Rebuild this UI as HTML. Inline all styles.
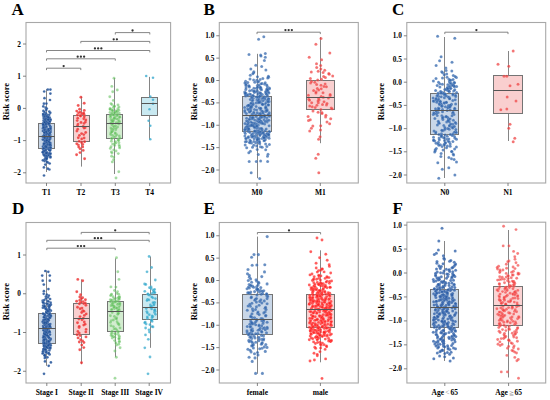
<!DOCTYPE html>
<html><head><meta charset="utf-8"><style>
html,body{margin:0;padding:0;background:#fff;width:550px;height:400px;overflow:hidden}
svg{display:block}

</style></head><body><div id="w">
<svg width="550" height="400" viewBox="0 0 550 400" font-family='"Liberation Serif", serif'>
<rect width="550" height="400" fill="#fff"/>
<text x="11.6" y="15.0" font-size="17" font-weight="bold">A</text>
<text x="6.3" y="101.65" font-size="8.5" font-weight="bold" text-anchor="middle" transform="rotate(-90 6.3 101.65)" dominant-baseline="central">Risk score</text>
<rect x="26" y="22.5" width="144.6" height="160.5" fill="none" stroke="#a8a8a8" stroke-width="1.1"/>
<line x1="23" y1="44.0" x2="26" y2="44.0" stroke="#666" stroke-width="0.8"/>
<text x="21" y="46.55" font-size="7.3" font-weight="bold" text-anchor="end">2</text>
<line x1="23" y1="76.2" x2="26" y2="76.2" stroke="#666" stroke-width="0.8"/>
<text x="21" y="78.75" font-size="7.3" font-weight="bold" text-anchor="end">1</text>
<line x1="23" y1="108.4" x2="26" y2="108.4" stroke="#666" stroke-width="0.8"/>
<text x="21" y="110.95" font-size="7.3" font-weight="bold" text-anchor="end">0</text>
<line x1="23" y1="140.60000000000002" x2="26" y2="140.60000000000002" stroke="#666" stroke-width="0.8"/>
<text x="21" y="143.15000000000003" font-size="7.3" font-weight="bold" text-anchor="end">−1</text>
<line x1="23" y1="172.8" x2="26" y2="172.8" stroke="#666" stroke-width="0.8"/>
<text x="21" y="175.35000000000002" font-size="7.3" font-weight="bold" text-anchor="end">−2</text>
<line x1="46.5" y1="183" x2="46.5" y2="186" stroke="#666" stroke-width="0.8"/>
<text x="46.5" y="194.6" font-size="7.5" font-weight="bold" text-anchor="middle">T1</text>
<line x1="81" y1="183" x2="81" y2="186" stroke="#666" stroke-width="0.8"/>
<text x="81" y="194.6" font-size="7.5" font-weight="bold" text-anchor="middle">T2</text>
<line x1="115.3" y1="183" x2="115.3" y2="186" stroke="#666" stroke-width="0.8"/>
<text x="115.3" y="194.6" font-size="7.5" font-weight="bold" text-anchor="middle">T3</text>
<line x1="149.7" y1="183" x2="149.7" y2="186" stroke="#666" stroke-width="0.8"/>
<text x="149.7" y="194.6" font-size="7.5" font-weight="bold" text-anchor="middle">T4</text>
<line x1="46.5" y1="89.1" x2="46.5" y2="172" stroke="#858585" stroke-width="1"/>
<rect x="38.5" y="123.5" width="16.0" height="25.0" fill="#c9d7e8" stroke="#747474" stroke-width="1"/>
<g fill="#1d4f96" fill-opacity="0.85" stroke="#fff" stroke-opacity="0.3" stroke-width="0.35">
<circle cx="50.2" cy="142.8" r="1.35"/>
<circle cx="50.6" cy="130.1" r="1.35"/>
<circle cx="49.4" cy="155.1" r="1.35"/>
<circle cx="47.2" cy="141.0" r="1.35"/>
<circle cx="50.4" cy="157.4" r="1.35"/>
<circle cx="47.1" cy="136.6" r="1.35"/>
<circle cx="47.2" cy="140.5" r="1.35"/>
<circle cx="48.9" cy="129.3" r="1.35"/>
<circle cx="46.8" cy="141.6" r="1.35"/>
<circle cx="43.7" cy="126.4" r="1.35"/>
<circle cx="48.0" cy="136.5" r="1.35"/>
<circle cx="45.9" cy="135.0" r="1.35"/>
<circle cx="50.3" cy="135.1" r="1.35"/>
<circle cx="47.6" cy="123.1" r="1.35"/>
<circle cx="45.6" cy="107.7" r="1.35"/>
<circle cx="42.9" cy="131.0" r="1.35"/>
<circle cx="47.3" cy="117.3" r="1.35"/>
<circle cx="47.8" cy="89.6" r="1.35"/>
<circle cx="47.8" cy="124.2" r="1.35"/>
<circle cx="46.4" cy="120.2" r="1.35"/>
<circle cx="44.6" cy="161.1" r="1.35"/>
<circle cx="45.0" cy="117.8" r="1.35"/>
<circle cx="45.5" cy="126.1" r="1.35"/>
<circle cx="50.6" cy="132.1" r="1.35"/>
<circle cx="46.2" cy="143.8" r="1.35"/>
<circle cx="46.5" cy="134.2" r="1.35"/>
<circle cx="46.1" cy="149.5" r="1.35"/>
<circle cx="42.9" cy="146.7" r="1.35"/>
<circle cx="49.0" cy="134.3" r="1.35"/>
<circle cx="43.6" cy="153.0" r="1.35"/>
<circle cx="47.9" cy="137.1" r="1.35"/>
<circle cx="44.0" cy="127.7" r="1.35"/>
<circle cx="46.7" cy="142.2" r="1.35"/>
<circle cx="46.7" cy="158.5" r="1.35"/>
<circle cx="44.0" cy="154.9" r="1.35"/>
<circle cx="48.9" cy="129.6" r="1.35"/>
<circle cx="47.5" cy="119.0" r="1.35"/>
<circle cx="48.2" cy="131.5" r="1.35"/>
<circle cx="48.3" cy="149.1" r="1.35"/>
<circle cx="48.0" cy="118.4" r="1.35"/>
<circle cx="43.8" cy="145.0" r="1.35"/>
<circle cx="49.1" cy="133.5" r="1.35"/>
<circle cx="43.4" cy="110.9" r="1.35"/>
<circle cx="43.9" cy="135.5" r="1.35"/>
<circle cx="49.8" cy="121.3" r="1.35"/>
<circle cx="45.6" cy="125.4" r="1.35"/>
<circle cx="43.9" cy="167.4" r="1.35"/>
<circle cx="43.7" cy="154.4" r="1.35"/>
<circle cx="46.8" cy="130.7" r="1.35"/>
<circle cx="42.9" cy="128.4" r="1.35"/>
<circle cx="45.6" cy="132.4" r="1.35"/>
<circle cx="47.8" cy="154.2" r="1.35"/>
<circle cx="45.9" cy="159.7" r="1.35"/>
<circle cx="46.6" cy="126.9" r="1.35"/>
<circle cx="49.4" cy="153.9" r="1.35"/>
<circle cx="46.5" cy="133.3" r="1.35"/>
<circle cx="50.3" cy="127.8" r="1.35"/>
<circle cx="46.6" cy="118.2" r="1.35"/>
<circle cx="45.0" cy="151.8" r="1.35"/>
<circle cx="44.5" cy="98.2" r="1.35"/>
<circle cx="50.6" cy="126.8" r="1.35"/>
<circle cx="43.2" cy="149.2" r="1.35"/>
<circle cx="44.1" cy="151.9" r="1.35"/>
<circle cx="50.6" cy="119.9" r="1.35"/>
<circle cx="45.1" cy="151.5" r="1.35"/>
<circle cx="49.2" cy="114.8" r="1.35"/>
<circle cx="44.2" cy="139.8" r="1.35"/>
<circle cx="49.3" cy="111.6" r="1.35"/>
<circle cx="44.1" cy="135.4" r="1.35"/>
<circle cx="47.2" cy="122.7" r="1.35"/>
<circle cx="49.3" cy="136.0" r="1.35"/>
<circle cx="46.1" cy="138.3" r="1.35"/>
<circle cx="44.8" cy="148.8" r="1.35"/>
<circle cx="45.6" cy="129.0" r="1.35"/>
<circle cx="50.3" cy="112.8" r="1.35"/>
<circle cx="46.0" cy="121.6" r="1.35"/>
<circle cx="46.3" cy="119.2" r="1.35"/>
<circle cx="45.2" cy="146.3" r="1.35"/>
<circle cx="43.3" cy="106.4" r="1.35"/>
<circle cx="44.6" cy="144.0" r="1.35"/>
<circle cx="49.1" cy="130.4" r="1.35"/>
<circle cx="48.0" cy="133.6" r="1.35"/>
<circle cx="49.7" cy="120.9" r="1.35"/>
<circle cx="48.8" cy="120.6" r="1.35"/>
<circle cx="44.6" cy="151.0" r="1.35"/>
<circle cx="44.7" cy="120.7" r="1.35"/>
<circle cx="48.4" cy="144.6" r="1.35"/>
<circle cx="43.6" cy="120.4" r="1.35"/>
<circle cx="49.8" cy="121.7" r="1.35"/>
<circle cx="46.3" cy="121.1" r="1.35"/>
<circle cx="46.1" cy="122.5" r="1.35"/>
<circle cx="48.0" cy="162.6" r="1.35"/>
<circle cx="48.0" cy="120.1" r="1.35"/>
<circle cx="44.3" cy="151.3" r="1.35"/>
<circle cx="43.1" cy="123.3" r="1.35"/>
<circle cx="48.6" cy="130.6" r="1.35"/>
<circle cx="49.0" cy="134.0" r="1.35"/>
<circle cx="44.0" cy="175.5" r="1.35"/>
<circle cx="45.1" cy="116.8" r="1.35"/>
<circle cx="50.4" cy="145.2" r="1.35"/>
<circle cx="46.8" cy="147.3" r="1.35"/>
<circle cx="46.5" cy="152.6" r="1.35"/>
<circle cx="44.0" cy="124.7" r="1.35"/>
<circle cx="47.3" cy="118.7" r="1.35"/>
<circle cx="42.8" cy="136.7" r="1.35"/>
<circle cx="44.9" cy="131.2" r="1.35"/>
<circle cx="47.4" cy="115.0" r="1.35"/>
<circle cx="49.4" cy="169.5" r="1.35"/>
<circle cx="46.2" cy="145.9" r="1.35"/>
<circle cx="48.3" cy="129.0" r="1.35"/>
<circle cx="49.1" cy="134.6" r="1.35"/>
<circle cx="49.4" cy="145.9" r="1.35"/>
<circle cx="50.4" cy="89.6" r="1.35"/>
<circle cx="49.6" cy="121.5" r="1.35"/>
<circle cx="50.3" cy="119.4" r="1.35"/>
<circle cx="44.8" cy="159.1" r="1.35"/>
<circle cx="44.5" cy="132.4" r="1.35"/>
<circle cx="46.1" cy="116.3" r="1.35"/>
<circle cx="46.9" cy="161.9" r="1.35"/>
<circle cx="44.8" cy="143.3" r="1.35"/>
<circle cx="45.9" cy="113.3" r="1.35"/>
<circle cx="46.6" cy="145.5" r="1.35"/>
<circle cx="48.2" cy="142.4" r="1.35"/>
<circle cx="43.7" cy="150.8" r="1.35"/>
<circle cx="46.4" cy="103.6" r="1.35"/>
<circle cx="48.6" cy="154.6" r="1.35"/>
<circle cx="43.9" cy="122.0" r="1.35"/>
<circle cx="48.1" cy="144.2" r="1.35"/>
<circle cx="45.5" cy="154.3" r="1.35"/>
<circle cx="45.3" cy="164.6" r="1.35"/>
<circle cx="49.4" cy="153.3" r="1.35"/>
<circle cx="50.1" cy="148.9" r="1.35"/>
<circle cx="50.2" cy="143.4" r="1.35"/>
<circle cx="46.8" cy="153.5" r="1.35"/>
<circle cx="45.4" cy="150.4" r="1.35"/>
<circle cx="46.3" cy="156.4" r="1.35"/>
<circle cx="50.5" cy="128.6" r="1.35"/>
<circle cx="46.6" cy="122.2" r="1.35"/>
<circle cx="45.2" cy="118.9" r="1.35"/>
<circle cx="47.0" cy="142.6" r="1.35"/>
<circle cx="47.4" cy="138.0" r="1.35"/>
<circle cx="45.0" cy="137.8" r="1.35"/>
<circle cx="44.8" cy="147.8" r="1.35"/>
<circle cx="49.0" cy="140.9" r="1.35"/>
<circle cx="44.8" cy="127.4" r="1.35"/>
<circle cx="47.1" cy="152.5" r="1.35"/>
<circle cx="48.2" cy="123.0" r="1.35"/>
<circle cx="43.6" cy="118.0" r="1.35"/>
<circle cx="43.9" cy="126.0" r="1.35"/>
<circle cx="50.0" cy="139.1" r="1.35"/>
<circle cx="45.7" cy="115.4" r="1.35"/>
<circle cx="49.9" cy="139.0" r="1.35"/>
<circle cx="46.8" cy="108.5" r="1.35"/>
<circle cx="48.1" cy="155.6" r="1.35"/>
<circle cx="49.7" cy="163.5" r="1.35"/>
<circle cx="43.9" cy="128.1" r="1.35"/>
<circle cx="43.9" cy="125.1" r="1.35"/>
<circle cx="44.5" cy="129.8" r="1.35"/>
<circle cx="45.0" cy="120.1" r="1.35"/>
<circle cx="50.3" cy="145.3" r="1.35"/>
<circle cx="43.7" cy="148.3" r="1.35"/>
<circle cx="44.6" cy="122.0" r="1.35"/>
<circle cx="45.4" cy="147.0" r="1.35"/>
<circle cx="45.4" cy="146.2" r="1.35"/>
<circle cx="45.0" cy="114.4" r="1.35"/>
<circle cx="43.5" cy="127.1" r="1.35"/>
<circle cx="46.4" cy="138.7" r="1.35"/>
<circle cx="49.5" cy="150.0" r="1.35"/>
<circle cx="49.9" cy="133.0" r="1.35"/>
<circle cx="42.8" cy="139.6" r="1.35"/>
<circle cx="44.4" cy="137.7" r="1.35"/>
<circle cx="48.9" cy="148.0" r="1.35"/>
<circle cx="49.1" cy="123.9" r="1.35"/>
<circle cx="44.8" cy="122.4" r="1.35"/>
<circle cx="45.9" cy="124.0" r="1.35"/>
<circle cx="42.8" cy="152.3" r="1.35"/>
<circle cx="47.4" cy="116.5" r="1.35"/>
<circle cx="43.1" cy="125.0" r="1.35"/>
<circle cx="50.0" cy="138.4" r="1.35"/>
<circle cx="43.2" cy="115.7" r="1.35"/>
<circle cx="47.8" cy="168.7" r="1.35"/>
<circle cx="50.0" cy="148.5" r="1.35"/>
<circle cx="49.7" cy="117.6" r="1.35"/>
<circle cx="46.2" cy="142.0" r="1.35"/>
<circle cx="49.1" cy="139.9" r="1.35"/>
<circle cx="44.3" cy="115.9" r="1.35"/>
<circle cx="49.7" cy="137.4" r="1.35"/>
<circle cx="43.9" cy="103.7" r="1.35"/>
<circle cx="49.7" cy="125.6" r="1.35"/>
<circle cx="47.0" cy="139.4" r="1.35"/>
<circle cx="43.2" cy="124.4" r="1.35"/>
<circle cx="45.6" cy="157.8" r="1.35"/>
<circle cx="48.8" cy="141.7" r="1.35"/>
<circle cx="50.6" cy="153.7" r="1.35"/>
<circle cx="42.9" cy="160.3" r="1.35"/>
<circle cx="50.0" cy="100.0" r="1.35"/>
<circle cx="43.6" cy="114.5" r="1.35"/>
<circle cx="49.7" cy="143.0" r="1.35"/>
<circle cx="50.2" cy="137.2" r="1.35"/>
<circle cx="44.3" cy="132.7" r="1.35"/>
<circle cx="48.8" cy="118.1" r="1.35"/>
<circle cx="46.3" cy="131.9" r="1.35"/>
<circle cx="50.6" cy="147.4" r="1.35"/>
<circle cx="48.0" cy="119.5" r="1.35"/>
<circle cx="43.1" cy="114.1" r="1.35"/>
<circle cx="44.5" cy="112.0" r="1.35"/>
<circle cx="48.3" cy="117.2" r="1.35"/>
<circle cx="48.9" cy="123.6" r="1.35"/>
<circle cx="50.5" cy="147.8" r="1.35"/>
<circle cx="49.6" cy="150.2" r="1.35"/>
<circle cx="50.2" cy="149.6" r="1.35"/>
<circle cx="44.0" cy="151.1" r="1.35"/>
<circle cx="44.6" cy="155.7" r="1.35"/>
<circle cx="49.9" cy="144.6" r="1.35"/>
<circle cx="49.1" cy="149.9" r="1.35"/>
<circle cx="45.8" cy="158.0" r="1.35"/>
<circle cx="46.2" cy="109.9" r="1.35"/>
<circle cx="46.4" cy="156.1" r="1.35"/>
<circle cx="47.1" cy="157.3" r="1.35"/>
<circle cx="46.7" cy="158.7" r="1.35"/>
<circle cx="43.8" cy="143.7" r="1.35"/>
<circle cx="44.2" cy="91.5" r="1.35"/>
<circle cx="46.2" cy="153.1" r="1.35"/>
<circle cx="44.9" cy="141.2" r="1.35"/>
<circle cx="48.3" cy="119.6" r="1.35"/>
<circle cx="46.5" cy="140.2" r="1.35"/>
<circle cx="50.4" cy="156.7" r="1.35"/>
<circle cx="50.1" cy="150.6" r="1.35"/>
<circle cx="42.8" cy="152.1" r="1.35"/>
<circle cx="49.2" cy="136.0" r="1.35"/>
<circle cx="46.2" cy="146.9" r="1.35"/>
<circle cx="46.8" cy="140.6" r="1.35"/>
<circle cx="50.4" cy="93.6" r="1.35"/>
</g>
<line x1="38.5" y1="136.5" x2="54.5" y2="136.5" stroke="#555" stroke-width="1"/>
<line x1="81.5" y1="96.4" x2="81.5" y2="166.6" stroke="#858585" stroke-width="1"/>
<rect x="73.5" y="115.5" width="16.0" height="26.0" fill="#f9cfcf" stroke="#747474" stroke-width="1"/>
<g fill="#ee2a2a" fill-opacity="0.8" stroke="#fff" stroke-opacity="0.3" stroke-width="0.35">
<circle cx="81.7" cy="139.0" r="1.45"/>
<circle cx="85.1" cy="127.7" r="1.45"/>
<circle cx="78.0" cy="124.1" r="1.45"/>
<circle cx="76.9" cy="131.1" r="1.45"/>
<circle cx="84.6" cy="141.7" r="1.45"/>
<circle cx="84.0" cy="128.0" r="1.45"/>
<circle cx="77.2" cy="120.6" r="1.45"/>
<circle cx="84.1" cy="138.0" r="1.45"/>
<circle cx="82.0" cy="113.6" r="1.45"/>
<circle cx="83.1" cy="113.9" r="1.45"/>
<circle cx="83.2" cy="126.5" r="1.45"/>
<circle cx="78.4" cy="145.1" r="1.45"/>
<circle cx="84.0" cy="123.4" r="1.45"/>
<circle cx="83.8" cy="118.7" r="1.45"/>
<circle cx="82.7" cy="144.5" r="1.45"/>
<circle cx="84.3" cy="110.4" r="1.45"/>
<circle cx="78.3" cy="137.7" r="1.45"/>
<circle cx="77.4" cy="115.0" r="1.45"/>
<circle cx="79.2" cy="141.4" r="1.45"/>
<circle cx="83.8" cy="134.6" r="1.45"/>
<circle cx="78.5" cy="112.7" r="1.45"/>
<circle cx="77.5" cy="125.7" r="1.45"/>
<circle cx="85.7" cy="132.5" r="1.45"/>
<circle cx="80.9" cy="97.3" r="1.45"/>
<circle cx="84.2" cy="103.3" r="1.45"/>
<circle cx="80.0" cy="152.6" r="1.45"/>
<circle cx="78.2" cy="105.5" r="1.45"/>
<circle cx="76.8" cy="143.7" r="1.45"/>
<circle cx="79.6" cy="109.2" r="1.45"/>
<circle cx="83.2" cy="150.4" r="1.45"/>
<circle cx="78.7" cy="147.1" r="1.45"/>
<circle cx="84.1" cy="114.4" r="1.45"/>
<circle cx="76.7" cy="111.1" r="1.45"/>
<circle cx="77.7" cy="129.2" r="1.45"/>
<circle cx="81.6" cy="142.5" r="1.45"/>
<circle cx="82.7" cy="146.9" r="1.45"/>
<circle cx="80.2" cy="115.5" r="1.45"/>
<circle cx="84.6" cy="158.8" r="1.45"/>
<circle cx="83.7" cy="113.0" r="1.45"/>
<circle cx="85.4" cy="122.0" r="1.45"/>
<circle cx="85.8" cy="120.0" r="1.45"/>
<circle cx="80.1" cy="148.7" r="1.45"/>
<circle cx="81.6" cy="133.6" r="1.45"/>
<circle cx="77.7" cy="118.3" r="1.45"/>
<circle cx="76.6" cy="154.7" r="1.45"/>
<circle cx="81.0" cy="122.5" r="1.45"/>
<circle cx="80.6" cy="116.1" r="1.45"/>
<circle cx="79.4" cy="135.4" r="1.45"/>
<circle cx="84.3" cy="116.7" r="1.45"/>
<circle cx="80.2" cy="112.3" r="1.45"/>
</g>
<line x1="73.5" y1="126.5" x2="89.5" y2="126.5" stroke="#555" stroke-width="1"/>
<line x1="114.5" y1="78.2" x2="114.5" y2="174" stroke="#858585" stroke-width="1"/>
<rect x="106.5" y="114.5" width="16.0" height="24.0" fill="#d3ecd0" stroke="#747474" stroke-width="1"/>
<g fill="#55bb50" fill-opacity="0.55" stroke="#fff" stroke-opacity="0.3" stroke-width="0.35">
<circle cx="111.8" cy="139.0" r="1.45"/>
<circle cx="119.6" cy="116.8" r="1.45"/>
<circle cx="110.0" cy="112.5" r="1.45"/>
<circle cx="110.1" cy="108.5" r="1.45"/>
<circle cx="110.3" cy="148.4" r="1.45"/>
<circle cx="119.7" cy="121.8" r="1.45"/>
<circle cx="115.8" cy="129.8" r="1.45"/>
<circle cx="118.3" cy="119.2" r="1.45"/>
<circle cx="111.8" cy="86.4" r="1.45"/>
<circle cx="117.2" cy="114.3" r="1.45"/>
<circle cx="111.8" cy="138.2" r="1.45"/>
<circle cx="115.3" cy="133.8" r="1.45"/>
<circle cx="119.3" cy="113.1" r="1.45"/>
<circle cx="114.8" cy="143.6" r="1.45"/>
<circle cx="116.3" cy="122.6" r="1.45"/>
<circle cx="111.7" cy="131.7" r="1.45"/>
<circle cx="111.8" cy="130.6" r="1.45"/>
<circle cx="110.4" cy="116.1" r="1.45"/>
<circle cx="111.0" cy="119.6" r="1.45"/>
<circle cx="114.7" cy="113.5" r="1.45"/>
<circle cx="117.4" cy="111.6" r="1.45"/>
<circle cx="113.1" cy="114.9" r="1.45"/>
<circle cx="112.7" cy="119.9" r="1.45"/>
<circle cx="114.5" cy="106.4" r="1.45"/>
<circle cx="113.8" cy="157.1" r="1.45"/>
<circle cx="115.3" cy="116.3" r="1.45"/>
<circle cx="119.5" cy="146.5" r="1.45"/>
<circle cx="119.7" cy="117.3" r="1.45"/>
<circle cx="110.6" cy="117.4" r="1.45"/>
<circle cx="111.6" cy="114.0" r="1.45"/>
<circle cx="117.5" cy="114.6" r="1.45"/>
<circle cx="117.0" cy="111.1" r="1.45"/>
<circle cx="115.5" cy="136.5" r="1.45"/>
<circle cx="114.8" cy="117.7" r="1.45"/>
<circle cx="112.7" cy="91.8" r="1.45"/>
<circle cx="118.3" cy="153.6" r="1.45"/>
<circle cx="111.4" cy="151.9" r="1.45"/>
<circle cx="118.8" cy="110.3" r="1.45"/>
<circle cx="117.9" cy="108.8" r="1.45"/>
<circle cx="112.6" cy="111.4" r="1.45"/>
<circle cx="114.7" cy="145.4" r="1.45"/>
<circle cx="116.0" cy="142.9" r="1.45"/>
<circle cx="110.4" cy="109.4" r="1.45"/>
<circle cx="119.0" cy="107.1" r="1.45"/>
<circle cx="111.1" cy="146.7" r="1.45"/>
<circle cx="117.3" cy="90.0" r="1.45"/>
<circle cx="113.3" cy="100.4" r="1.45"/>
<circle cx="117.6" cy="127.0" r="1.45"/>
<circle cx="113.6" cy="159.7" r="1.45"/>
<circle cx="112.3" cy="113.2" r="1.45"/>
<circle cx="119.1" cy="145.0" r="1.45"/>
<circle cx="118.6" cy="121.1" r="1.45"/>
<circle cx="111.9" cy="104.6" r="1.45"/>
<circle cx="116.8" cy="134.8" r="1.45"/>
<circle cx="117.3" cy="115.7" r="1.45"/>
<circle cx="119.3" cy="135.9" r="1.45"/>
<circle cx="112.6" cy="144.1" r="1.45"/>
<circle cx="116.1" cy="112.2" r="1.45"/>
<circle cx="113.1" cy="130.8" r="1.45"/>
<circle cx="116.0" cy="151.0" r="1.45"/>
<circle cx="116.0" cy="128.3" r="1.45"/>
<circle cx="110.8" cy="133.0" r="1.45"/>
<circle cx="114.0" cy="118.4" r="1.45"/>
<circle cx="111.8" cy="129.2" r="1.45"/>
<circle cx="116.0" cy="178.0" r="1.45"/>
<circle cx="115.3" cy="141.6" r="1.45"/>
<circle cx="114.0" cy="78.2" r="1.45"/>
<circle cx="110.2" cy="109.3" r="1.45"/>
<circle cx="111.8" cy="120.6" r="1.45"/>
<circle cx="118.9" cy="124.0" r="1.45"/>
<circle cx="113.5" cy="120.2" r="1.45"/>
<circle cx="116.0" cy="111.0" r="1.45"/>
<circle cx="113.4" cy="107.6" r="1.45"/>
<circle cx="112.4" cy="110.0" r="1.45"/>
<circle cx="112.1" cy="122.2" r="1.45"/>
<circle cx="114.3" cy="126.8" r="1.45"/>
<circle cx="112.3" cy="161.9" r="1.45"/>
<circle cx="112.0" cy="153.0" r="1.45"/>
<circle cx="118.9" cy="142.6" r="1.45"/>
<circle cx="113.4" cy="115.1" r="1.45"/>
<circle cx="113.5" cy="126.3" r="1.45"/>
<circle cx="110.9" cy="128.0" r="1.45"/>
<circle cx="114.0" cy="137.1" r="1.45"/>
<circle cx="109.8" cy="96.7" r="1.45"/>
<circle cx="111.0" cy="103.6" r="1.45"/>
<circle cx="114.6" cy="112.6" r="1.45"/>
<circle cx="112.7" cy="124.1" r="1.45"/>
<circle cx="113.5" cy="128.7" r="1.45"/>
<circle cx="111.7" cy="124.7" r="1.45"/>
<circle cx="112.3" cy="120.7" r="1.45"/>
<circle cx="118.0" cy="140.1" r="1.45"/>
<circle cx="111.6" cy="156.3" r="1.45"/>
<circle cx="118.0" cy="123.3" r="1.45"/>
<circle cx="110.6" cy="115.6" r="1.45"/>
<circle cx="110.7" cy="134.5" r="1.45"/>
<circle cx="113.7" cy="149.9" r="1.45"/>
<circle cx="110.8" cy="123.0" r="1.45"/>
<circle cx="118.8" cy="139.2" r="1.45"/>
<circle cx="114.3" cy="118.2" r="1.45"/>
<circle cx="119.8" cy="137.9" r="1.45"/>
<circle cx="111.8" cy="132.1" r="1.45"/>
<circle cx="115.6" cy="125.8" r="1.45"/>
<circle cx="112.6" cy="135.4" r="1.45"/>
<circle cx="113.1" cy="121.5" r="1.45"/>
<circle cx="112.5" cy="110.5" r="1.45"/>
<circle cx="116.5" cy="118.9" r="1.45"/>
<circle cx="118.6" cy="140.6" r="1.45"/>
<circle cx="118.0" cy="105.0" r="1.45"/>
<circle cx="111.4" cy="141.3" r="1.45"/>
<circle cx="119.6" cy="147.9" r="1.45"/>
<circle cx="118.8" cy="171.7" r="1.45"/>
<circle cx="115.3" cy="132.9" r="1.45"/>
<circle cx="114.1" cy="106.3" r="1.45"/>
</g>
<line x1="106.5" y1="123.5" x2="122.5" y2="123.5" stroke="#555" stroke-width="1"/>
<line x1="149.5" y1="76.9" x2="149.5" y2="139.5" stroke="#858585" stroke-width="1"/>
<rect x="141.5" y="97.5" width="16.0" height="18.0" fill="#c9e9f1" stroke="#747474" stroke-width="1"/>
<g fill="#25a2c9" fill-opacity="0.75" stroke="#fff" stroke-opacity="0.3" stroke-width="0.35">
<circle cx="146.2" cy="76.0" r="1.3"/>
<circle cx="153.0" cy="77.7" r="1.3"/>
<circle cx="150.3" cy="96.6" r="1.3"/>
<circle cx="153.0" cy="99.7" r="1.3"/>
<circle cx="153.0" cy="103.8" r="1.3"/>
<circle cx="149.5" cy="109.3" r="1.3"/>
<circle cx="148.6" cy="120.8" r="1.3"/>
<circle cx="150.3" cy="125.8" r="1.3"/>
<circle cx="150.3" cy="139.2" r="1.3"/>
</g>
<line x1="141.5" y1="103.5" x2="157.5" y2="103.5" stroke="#555" stroke-width="1"/>
<path d="M115.3 34.5 V32.6 H149.8 V34.5" fill="none" stroke="#707070" stroke-width="0.85"/>
<circle cx="132.55" cy="30.5" r="1.15" fill="#333"/>
<path d="M80.8 43.3 V41.4 H149.8 V43.3" fill="none" stroke="#707070" stroke-width="0.85"/>
<circle cx="113.70" cy="39.3" r="1.15" fill="#333"/>
<circle cx="116.90" cy="39.3" r="1.15" fill="#333"/>
<path d="M46.5 52.4 V50.5 H149.8 V52.4" fill="none" stroke="#707070" stroke-width="0.85"/>
<circle cx="94.95" cy="48.4" r="1.15" fill="#333"/>
<circle cx="98.15" cy="48.4" r="1.15" fill="#333"/>
<circle cx="101.35" cy="48.4" r="1.15" fill="#333"/>
<path d="M46.5 60.699999999999996 V58.8 H115.3 V60.699999999999996" fill="none" stroke="#707070" stroke-width="0.85"/>
<circle cx="77.70" cy="56.699999999999996" r="1.15" fill="#333"/>
<circle cx="80.90" cy="56.699999999999996" r="1.15" fill="#333"/>
<circle cx="84.10" cy="56.699999999999996" r="1.15" fill="#333"/>
<path d="M46.5 70.10000000000001 V68.2 H80.8 V70.10000000000001" fill="none" stroke="#707070" stroke-width="0.85"/>
<circle cx="63.65" cy="66.10000000000001" r="1.15" fill="#333"/>
<text x="203.5" y="14.6" font-size="17" font-weight="bold">B</text>
<text x="193.7" y="101.65" font-size="8.5" font-weight="bold" text-anchor="middle" transform="rotate(-90 193.7 101.65)" dominant-baseline="central">Risk score</text>
<rect x="219.3" y="22.5" width="139.0" height="160.5" fill="none" stroke="#a8a8a8" stroke-width="1.1"/>
<line x1="216.3" y1="35.75" x2="219.3" y2="35.75" stroke="#666" stroke-width="0.8"/>
<text x="214.3" y="38.3" font-size="7.3" font-weight="bold" text-anchor="end">1.0</text>
<line x1="216.3" y1="58.125" x2="219.3" y2="58.125" stroke="#666" stroke-width="0.8"/>
<text x="214.3" y="60.675" font-size="7.3" font-weight="bold" text-anchor="end">0.5</text>
<line x1="216.3" y1="80.5" x2="219.3" y2="80.5" stroke="#666" stroke-width="0.8"/>
<text x="214.3" y="83.05" font-size="7.3" font-weight="bold" text-anchor="end">0.0</text>
<line x1="216.3" y1="102.875" x2="219.3" y2="102.875" stroke="#666" stroke-width="0.8"/>
<text x="214.3" y="105.425" font-size="7.3" font-weight="bold" text-anchor="end">−0.5</text>
<line x1="216.3" y1="125.25" x2="219.3" y2="125.25" stroke="#666" stroke-width="0.8"/>
<text x="214.3" y="127.8" font-size="7.3" font-weight="bold" text-anchor="end">−1.0</text>
<line x1="216.3" y1="147.625" x2="219.3" y2="147.625" stroke="#666" stroke-width="0.8"/>
<text x="214.3" y="150.175" font-size="7.3" font-weight="bold" text-anchor="end">−1.5</text>
<line x1="216.3" y1="170.0" x2="219.3" y2="170.0" stroke="#666" stroke-width="0.8"/>
<text x="214.3" y="172.55" font-size="7.3" font-weight="bold" text-anchor="end">−2.0</text>
<line x1="257" y1="183" x2="257" y2="186" stroke="#666" stroke-width="0.8"/>
<text x="257" y="194.6" font-size="7.5" font-weight="bold" text-anchor="middle">M0</text>
<line x1="320.3" y1="183" x2="320.3" y2="186" stroke="#666" stroke-width="0.8"/>
<text x="320.3" y="194.6" font-size="7.5" font-weight="bold" text-anchor="middle">M1</text>
<line x1="257.5" y1="53.8" x2="257.5" y2="178.2" stroke="#858585" stroke-width="1"/>
<rect x="242.5" y="96.5" width="29.0" height="35.0" fill="#c9d7e8" stroke="#747474" stroke-width="1"/>
<g fill="#2c62ab" fill-opacity="0.72" stroke="#fff" stroke-opacity="0.3" stroke-width="0.35">
<circle cx="256.1" cy="102.9" r="1.5"/>
<circle cx="261.9" cy="133.0" r="1.5"/>
<circle cx="259.0" cy="114.1" r="1.5"/>
<circle cx="264.5" cy="135.6" r="1.5"/>
<circle cx="264.0" cy="135.1" r="1.5"/>
<circle cx="246.6" cy="118.3" r="1.5"/>
<circle cx="253.6" cy="132.9" r="1.5"/>
<circle cx="247.6" cy="108.8" r="1.5"/>
<circle cx="261.4" cy="123.3" r="1.5"/>
<circle cx="259.8" cy="87.6" r="1.5"/>
<circle cx="247.8" cy="82.5" r="1.5"/>
<circle cx="266.2" cy="102.6" r="1.5"/>
<circle cx="246.0" cy="85.8" r="1.5"/>
<circle cx="250.8" cy="125.3" r="1.5"/>
<circle cx="249.1" cy="130.0" r="1.5"/>
<circle cx="245.3" cy="141.8" r="1.5"/>
<circle cx="256.8" cy="100.0" r="1.5"/>
<circle cx="269.2" cy="132.3" r="1.5"/>
<circle cx="251.7" cy="125.4" r="1.5"/>
<circle cx="245.2" cy="144.9" r="1.5"/>
<circle cx="267.1" cy="121.9" r="1.5"/>
<circle cx="251.9" cy="107.1" r="1.5"/>
<circle cx="264.2" cy="96.8" r="1.5"/>
<circle cx="268.4" cy="104.7" r="1.5"/>
<circle cx="257.6" cy="97.9" r="1.5"/>
<circle cx="256.2" cy="97.0" r="1.5"/>
<circle cx="254.7" cy="127.1" r="1.5"/>
<circle cx="260.0" cy="133.9" r="1.5"/>
<circle cx="259.1" cy="118.8" r="1.5"/>
<circle cx="257.2" cy="90.4" r="1.5"/>
<circle cx="256.6" cy="137.9" r="1.5"/>
<circle cx="257.8" cy="118.8" r="1.5"/>
<circle cx="244.7" cy="132.1" r="1.5"/>
<circle cx="260.6" cy="89.0" r="1.5"/>
<circle cx="249.8" cy="142.8" r="1.5"/>
<circle cx="258.3" cy="102.8" r="1.5"/>
<circle cx="246.5" cy="141.6" r="1.5"/>
<circle cx="259.8" cy="86.7" r="1.5"/>
<circle cx="264.7" cy="124.0" r="1.5"/>
<circle cx="262.2" cy="138.5" r="1.5"/>
<circle cx="261.3" cy="121.3" r="1.5"/>
<circle cx="256.3" cy="132.5" r="1.5"/>
<circle cx="258.3" cy="154.5" r="1.5"/>
<circle cx="267.2" cy="110.9" r="1.5"/>
<circle cx="252.1" cy="118.1" r="1.5"/>
<circle cx="245.3" cy="133.6" r="1.5"/>
<circle cx="255.1" cy="123.0" r="1.5"/>
<circle cx="258.2" cy="131.8" r="1.5"/>
<circle cx="269.3" cy="131.4" r="1.5"/>
<circle cx="267.5" cy="156.3" r="1.5"/>
<circle cx="265.2" cy="97.6" r="1.5"/>
<circle cx="265.3" cy="139.5" r="1.5"/>
<circle cx="259.7" cy="120.1" r="1.5"/>
<circle cx="246.2" cy="93.5" r="1.5"/>
<circle cx="268.6" cy="77.2" r="1.5"/>
<circle cx="258.1" cy="128.0" r="1.5"/>
<circle cx="251.8" cy="119.1" r="1.5"/>
<circle cx="257.6" cy="81.9" r="1.5"/>
<circle cx="261.0" cy="110.3" r="1.5"/>
<circle cx="263.6" cy="137.0" r="1.5"/>
<circle cx="268.0" cy="99.7" r="1.5"/>
<circle cx="254.2" cy="91.1" r="1.5"/>
<circle cx="244.7" cy="91.9" r="1.5"/>
<circle cx="256.3" cy="131.8" r="1.5"/>
<circle cx="245.7" cy="96.0" r="1.5"/>
<circle cx="267.7" cy="115.0" r="1.5"/>
<circle cx="248.6" cy="85.7" r="1.5"/>
<circle cx="262.8" cy="78.6" r="1.5"/>
<circle cx="268.4" cy="98.9" r="1.5"/>
<circle cx="252.6" cy="118.5" r="1.5"/>
<circle cx="251.2" cy="103.8" r="1.5"/>
<circle cx="246.1" cy="139.1" r="1.5"/>
<circle cx="246.0" cy="127.9" r="1.5"/>
<circle cx="246.9" cy="124.5" r="1.5"/>
<circle cx="263.1" cy="112.4" r="1.5"/>
<circle cx="260.7" cy="116.4" r="1.5"/>
<circle cx="252.1" cy="101.1" r="1.5"/>
<circle cx="263.8" cy="136.3" r="1.5"/>
<circle cx="245.6" cy="81.2" r="1.5"/>
<circle cx="244.9" cy="135.9" r="1.5"/>
<circle cx="245.9" cy="138.3" r="1.5"/>
<circle cx="260.4" cy="120.7" r="1.5"/>
<circle cx="246.1" cy="83.6" r="1.5"/>
<circle cx="259.0" cy="99.1" r="1.5"/>
<circle cx="246.4" cy="113.6" r="1.5"/>
<circle cx="261.5" cy="131.2" r="1.5"/>
<circle cx="255.8" cy="136.5" r="1.5"/>
<circle cx="265.2" cy="104.0" r="1.5"/>
<circle cx="265.3" cy="135.9" r="1.5"/>
<circle cx="248.4" cy="131.6" r="1.5"/>
<circle cx="261.5" cy="117.2" r="1.5"/>
<circle cx="255.7" cy="143.1" r="1.5"/>
<circle cx="246.7" cy="95.0" r="1.5"/>
<circle cx="251.9" cy="90.2" r="1.5"/>
<circle cx="253.8" cy="141.5" r="1.5"/>
<circle cx="262.3" cy="129.8" r="1.5"/>
<circle cx="260.7" cy="95.5" r="1.5"/>
<circle cx="256.8" cy="141.3" r="1.5"/>
<circle cx="254.5" cy="109.4" r="1.5"/>
<circle cx="262.7" cy="113.2" r="1.5"/>
<circle cx="260.6" cy="100.9" r="1.5"/>
<circle cx="251.9" cy="105.8" r="1.5"/>
<circle cx="256.9" cy="130.6" r="1.5"/>
<circle cx="266.9" cy="117.9" r="1.5"/>
<circle cx="253.2" cy="98.2" r="1.5"/>
<circle cx="246.5" cy="121.0" r="1.5"/>
<circle cx="264.5" cy="134.9" r="1.5"/>
<circle cx="261.2" cy="115.7" r="1.5"/>
<circle cx="247.2" cy="106.0" r="1.5"/>
<circle cx="246.6" cy="128.6" r="1.5"/>
<circle cx="246.7" cy="147.8" r="1.5"/>
<circle cx="245.0" cy="123.6" r="1.5"/>
<circle cx="256.4" cy="88.2" r="1.5"/>
<circle cx="249.5" cy="111.6" r="1.5"/>
<circle cx="258.6" cy="142.6" r="1.5"/>
<circle cx="260.4" cy="113.3" r="1.5"/>
<circle cx="245.7" cy="127.4" r="1.5"/>
<circle cx="252.9" cy="103.3" r="1.5"/>
<circle cx="266.6" cy="92.2" r="1.5"/>
<circle cx="249.5" cy="93.9" r="1.5"/>
<circle cx="264.9" cy="99.3" r="1.5"/>
<circle cx="248.4" cy="136.7" r="1.5"/>
<circle cx="250.4" cy="151.2" r="1.5"/>
<circle cx="247.5" cy="121.3" r="1.5"/>
<circle cx="265.7" cy="111.6" r="1.5"/>
<circle cx="250.7" cy="94.5" r="1.5"/>
<circle cx="259.4" cy="101.9" r="1.5"/>
<circle cx="258.4" cy="125.0" r="1.5"/>
<circle cx="262.4" cy="111.2" r="1.5"/>
<circle cx="249.0" cy="54.5" r="1.5"/>
<circle cx="249.3" cy="126.3" r="1.5"/>
<circle cx="249.4" cy="87.1" r="1.5"/>
<circle cx="264.6" cy="140.2" r="1.5"/>
<circle cx="268.2" cy="134.4" r="1.5"/>
<circle cx="265.7" cy="149.8" r="1.5"/>
<circle cx="263.5" cy="133.1" r="1.5"/>
<circle cx="265.1" cy="130.7" r="1.5"/>
<circle cx="265.9" cy="106.5" r="1.5"/>
<circle cx="264.4" cy="60.4" r="1.5"/>
<circle cx="259.0" cy="130.4" r="1.5"/>
<circle cx="261.9" cy="103.6" r="1.5"/>
<circle cx="260.1" cy="117.8" r="1.5"/>
<circle cx="256.3" cy="161.4" r="1.5"/>
<circle cx="257.4" cy="85.4" r="1.5"/>
<circle cx="258.6" cy="92.6" r="1.5"/>
<circle cx="249.8" cy="140.0" r="1.5"/>
<circle cx="267.3" cy="88.5" r="1.5"/>
<circle cx="256.6" cy="109.9" r="1.5"/>
<circle cx="256.4" cy="127.7" r="1.5"/>
<circle cx="257.9" cy="138.9" r="1.5"/>
<circle cx="257.9" cy="137.8" r="1.5"/>
<circle cx="261.2" cy="133.4" r="1.5"/>
<circle cx="269.1" cy="125.8" r="1.5"/>
<circle cx="269.1" cy="101.5" r="1.5"/>
<circle cx="269.4" cy="114.8" r="1.5"/>
<circle cx="254.5" cy="127.3" r="1.5"/>
<circle cx="254.9" cy="124.4" r="1.5"/>
<circle cx="268.4" cy="92.0" r="1.5"/>
<circle cx="256.6" cy="124.0" r="1.5"/>
<circle cx="262.2" cy="83.5" r="1.5"/>
<circle cx="253.8" cy="71.7" r="1.5"/>
<circle cx="250.3" cy="75.2" r="1.5"/>
<circle cx="256.1" cy="106.5" r="1.5"/>
<circle cx="256.3" cy="91.8" r="1.5"/>
<circle cx="268.9" cy="136.1" r="1.5"/>
<circle cx="261.1" cy="83.8" r="1.5"/>
<circle cx="269.4" cy="88.0" r="1.5"/>
<circle cx="260.9" cy="88.6" r="1.5"/>
<circle cx="248.4" cy="109.7" r="1.5"/>
<circle cx="267.1" cy="90.6" r="1.5"/>
<circle cx="246.7" cy="126.8" r="1.5"/>
<circle cx="264.0" cy="140.7" r="1.5"/>
<circle cx="253.7" cy="72.7" r="1.5"/>
<circle cx="268.4" cy="134.2" r="1.5"/>
<circle cx="249.4" cy="105.4" r="1.5"/>
<circle cx="268.4" cy="104.9" r="1.5"/>
<circle cx="251.5" cy="143.1" r="1.5"/>
<circle cx="258.4" cy="133.2" r="1.5"/>
<circle cx="256.2" cy="116.6" r="1.5"/>
<circle cx="256.9" cy="120.8" r="1.5"/>
<circle cx="264.8" cy="84.2" r="1.5"/>
<circle cx="251.7" cy="137.1" r="1.5"/>
<circle cx="253.6" cy="80.0" r="1.5"/>
<circle cx="253.4" cy="117.5" r="1.5"/>
<circle cx="258.7" cy="97.2" r="1.5"/>
<circle cx="264.9" cy="115.7" r="1.5"/>
<circle cx="245.3" cy="94.6" r="1.5"/>
<circle cx="267.5" cy="91.5" r="1.5"/>
<circle cx="268.3" cy="114.5" r="1.5"/>
<circle cx="264.1" cy="119.7" r="1.5"/>
<circle cx="259.0" cy="85.1" r="1.5"/>
<circle cx="249.6" cy="142.2" r="1.5"/>
<circle cx="247.0" cy="129.3" r="1.5"/>
<circle cx="263.1" cy="100.8" r="1.5"/>
<circle cx="247.7" cy="126.6" r="1.5"/>
<circle cx="267.3" cy="96.2" r="1.5"/>
<circle cx="261.7" cy="66.4" r="1.5"/>
<circle cx="258.6" cy="39.3" r="1.5"/>
<circle cx="244.6" cy="107.5" r="1.5"/>
<circle cx="248.0" cy="129.7" r="1.5"/>
<circle cx="260.2" cy="114.0" r="1.5"/>
<circle cx="246.1" cy="87.8" r="1.5"/>
<circle cx="257.4" cy="76.7" r="1.5"/>
<circle cx="251.7" cy="96.5" r="1.5"/>
<circle cx="250.1" cy="106.8" r="1.5"/>
<circle cx="269.4" cy="88.8" r="1.5"/>
<circle cx="260.5" cy="146.8" r="1.5"/>
<circle cx="254.3" cy="92.5" r="1.5"/>
<circle cx="244.9" cy="112.1" r="1.5"/>
<circle cx="249.1" cy="86.1" r="1.5"/>
<circle cx="258.7" cy="132.6" r="1.5"/>
<circle cx="261.7" cy="116.9" r="1.5"/>
<circle cx="245.0" cy="130.1" r="1.5"/>
<circle cx="265.9" cy="69.9" r="1.5"/>
<circle cx="244.9" cy="83.0" r="1.5"/>
<circle cx="256.7" cy="145.9" r="1.5"/>
<circle cx="244.8" cy="110.6" r="1.5"/>
<circle cx="269.4" cy="144.4" r="1.5"/>
<circle cx="268.9" cy="93.0" r="1.5"/>
<circle cx="252.8" cy="135.4" r="1.5"/>
<circle cx="252.9" cy="95.6" r="1.5"/>
<circle cx="248.1" cy="124.3" r="1.5"/>
<circle cx="259.7" cy="178.6" r="1.5"/>
<circle cx="260.1" cy="79.4" r="1.5"/>
<circle cx="244.8" cy="129.5" r="1.5"/>
<circle cx="267.0" cy="120.4" r="1.5"/>
<circle cx="268.7" cy="98.8" r="1.5"/>
<circle cx="266.6" cy="133.7" r="1.5"/>
<circle cx="256.2" cy="134.6" r="1.5"/>
<circle cx="254.0" cy="113.4" r="1.5"/>
<circle cx="256.7" cy="80.3" r="1.5"/>
<circle cx="260.6" cy="55.0" r="1.5"/>
<circle cx="265.3" cy="57.2" r="1.5"/>
<circle cx="259.7" cy="134.3" r="1.5"/>
<circle cx="259.2" cy="107.9" r="1.5"/>
<circle cx="266.8" cy="137.2" r="1.5"/>
<circle cx="249.7" cy="119.1" r="1.5"/>
<circle cx="266.0" cy="109.9" r="1.5"/>
<circle cx="252.1" cy="114.2" r="1.5"/>
<circle cx="260.0" cy="135.4" r="1.5"/>
<circle cx="266.9" cy="109.3" r="1.5"/>
<circle cx="267.3" cy="86.4" r="1.5"/>
<circle cx="261.5" cy="89.8" r="1.5"/>
<circle cx="253.9" cy="88.3" r="1.5"/>
<circle cx="248.2" cy="128.2" r="1.5"/>
<circle cx="253.7" cy="145.2" r="1.5"/>
<circle cx="254.2" cy="136.2" r="1.5"/>
<circle cx="269.1" cy="138.2" r="1.5"/>
<circle cx="251.0" cy="109.0" r="1.5"/>
<circle cx="261.9" cy="122.6" r="1.5"/>
<circle cx="265.2" cy="82.8" r="1.5"/>
<circle cx="260.2" cy="132.0" r="1.5"/>
<circle cx="266.2" cy="129.1" r="1.5"/>
<circle cx="250.2" cy="108.6" r="1.5"/>
<circle cx="268.1" cy="89.5" r="1.5"/>
<circle cx="253.3" cy="95.8" r="1.5"/>
<circle cx="258.1" cy="101.3" r="1.5"/>
<circle cx="255.0" cy="130.9" r="1.5"/>
<circle cx="245.3" cy="92.7" r="1.5"/>
<circle cx="264.4" cy="137.6" r="1.5"/>
<circle cx="251.5" cy="106.3" r="1.5"/>
<circle cx="258.5" cy="100.2" r="1.5"/>
<circle cx="259.0" cy="119.4" r="1.5"/>
<circle cx="254.8" cy="82.2" r="1.5"/>
<circle cx="258.4" cy="121.7" r="1.5"/>
<circle cx="256.1" cy="115.0" r="1.5"/>
<circle cx="257.5" cy="96.8" r="1.5"/>
<circle cx="266.2" cy="135.7" r="1.5"/>
<circle cx="255.8" cy="65.2" r="1.5"/>
<circle cx="254.6" cy="131.1" r="1.5"/>
<circle cx="250.7" cy="141.0" r="1.5"/>
<circle cx="260.3" cy="128.6" r="1.5"/>
<circle cx="257.3" cy="112.8" r="1.5"/>
<circle cx="261.7" cy="128.4" r="1.5"/>
<circle cx="248.5" cy="122.5" r="1.5"/>
<circle cx="268.4" cy="76.3" r="1.5"/>
<circle cx="264.2" cy="138.0" r="1.5"/>
<circle cx="265.6" cy="108.1" r="1.5"/>
<circle cx="252.3" cy="134.0" r="1.5"/>
<circle cx="267.3" cy="94.9" r="1.5"/>
<circle cx="254.6" cy="119.9" r="1.5"/>
<circle cx="265.8" cy="107.6" r="1.5"/>
<circle cx="262.2" cy="147.2" r="1.5"/>
<circle cx="258.9" cy="140.4" r="1.5"/>
<circle cx="259.6" cy="102.2" r="1.5"/>
<circle cx="265.6" cy="143.9" r="1.5"/>
<circle cx="251.3" cy="135.2" r="1.5"/>
<circle cx="265.2" cy="121.5" r="1.5"/>
<circle cx="264.5" cy="115.2" r="1.5"/>
<circle cx="261.9" cy="98.4" r="1.5"/>
<circle cx="252.5" cy="147.3" r="1.5"/>
<circle cx="254.0" cy="91.3" r="1.5"/>
<circle cx="250.9" cy="107.1" r="1.5"/>
<circle cx="259.2" cy="138.7" r="1.5"/>
<circle cx="263.1" cy="132.7" r="1.5"/>
<circle cx="250.3" cy="99.6" r="1.5"/>
<circle cx="263.9" cy="137.6" r="1.5"/>
<circle cx="251.2" cy="172.8" r="1.5"/>
<circle cx="257.8" cy="94.1" r="1.5"/>
<circle cx="249.6" cy="90.8" r="1.5"/>
<circle cx="260.6" cy="161.0" r="1.5"/>
<circle cx="262.9" cy="123.6" r="1.5"/>
<circle cx="261.0" cy="56.1" r="1.5"/>
<circle cx="266.9" cy="90.4" r="1.5"/>
<circle cx="254.5" cy="127.0" r="1.5"/>
<circle cx="253.2" cy="104.6" r="1.5"/>
<circle cx="260.3" cy="95.2" r="1.5"/>
<circle cx="253.7" cy="112.3" r="1.5"/>
<circle cx="260.8" cy="108.3" r="1.5"/>
<circle cx="267.3" cy="133.6" r="1.5"/>
<circle cx="248.2" cy="105.5" r="1.5"/>
<circle cx="250.0" cy="79.1" r="1.5"/>
<circle cx="266.5" cy="94.2" r="1.5"/>
<circle cx="250.9" cy="103.2" r="1.5"/>
<circle cx="249.1" cy="119.6" r="1.5"/>
<circle cx="268.9" cy="120.3" r="1.5"/>
<circle cx="248.6" cy="105.3" r="1.5"/>
<circle cx="265.9" cy="93.6" r="1.5"/>
<circle cx="250.7" cy="122.1" r="1.5"/>
<circle cx="265.3" cy="53.6" r="1.5"/>
<circle cx="250.0" cy="132.4" r="1.5"/>
<circle cx="248.8" cy="152.8" r="1.5"/>
<circle cx="259.6" cy="96.4" r="1.5"/>
<circle cx="266.8" cy="84.9" r="1.5"/>
<circle cx="267.7" cy="100.5" r="1.5"/>
<circle cx="249.6" cy="111.9" r="1.5"/>
<circle cx="259.7" cy="143.7" r="1.5"/>
<circle cx="260.6" cy="115.4" r="1.5"/>
<circle cx="257.2" cy="139.8" r="1.5"/>
<circle cx="267.4" cy="90.9" r="1.5"/>
<circle cx="256.8" cy="125.7" r="1.5"/>
<circle cx="268.1" cy="101.8" r="1.5"/>
<circle cx="267.6" cy="161.4" r="1.5"/>
<circle cx="269.3" cy="112.7" r="1.5"/>
<circle cx="253.5" cy="123.3" r="1.5"/>
<circle cx="257.5" cy="87.2" r="1.5"/>
<circle cx="248.2" cy="137.4" r="1.5"/>
<circle cx="267.7" cy="78.1" r="1.5"/>
<circle cx="264.6" cy="117.2" r="1.5"/>
<circle cx="266.8" cy="89.2" r="1.5"/>
<circle cx="251.9" cy="122.8" r="1.5"/>
<circle cx="260.0" cy="92.8" r="1.5"/>
<circle cx="266.9" cy="146.4" r="1.5"/>
<circle cx="252.5" cy="136.7" r="1.5"/>
<circle cx="260.7" cy="87.5" r="1.5"/>
<circle cx="252.7" cy="100.3" r="1.5"/>
<circle cx="262.3" cy="94.4" r="1.5"/>
<circle cx="258.7" cy="81.4" r="1.5"/>
<circle cx="251.7" cy="97.7" r="1.5"/>
<circle cx="253.0" cy="124.8" r="1.5"/>
<circle cx="252.8" cy="73.8" r="1.5"/>
<circle cx="263.8" cy="36.7" r="1.5"/>
<circle cx="245.3" cy="93.3" r="1.5"/>
<circle cx="259.0" cy="102.3" r="1.5"/>
<circle cx="268.0" cy="154.3" r="1.5"/>
<circle cx="247.8" cy="95.3" r="1.5"/>
<circle cx="250.3" cy="116.8" r="1.5"/>
<circle cx="253.1" cy="126.1" r="1.5"/>
<circle cx="269.4" cy="116.2" r="1.5"/>
<circle cx="265.5" cy="91.7" r="1.5"/>
<circle cx="252.5" cy="117.6" r="1.5"/>
<circle cx="262.6" cy="104.2" r="1.5"/>
<circle cx="264.4" cy="116.0" r="1.5"/>
<circle cx="250.8" cy="111.0" r="1.5"/>
<circle cx="251.6" cy="125.2" r="1.5"/>
<circle cx="267.4" cy="90.0" r="1.5"/>
<circle cx="257.5" cy="139.3" r="1.5"/>
<circle cx="259.5" cy="122.2" r="1.5"/>
<circle cx="268.3" cy="134.8" r="1.5"/>
<circle cx="268.7" cy="134.6" r="1.5"/>
<circle cx="260.5" cy="108.5" r="1.5"/>
<circle cx="259.7" cy="142.0" r="1.5"/>
<circle cx="263.3" cy="98.1" r="1.5"/>
<circle cx="250.8" cy="69.0" r="1.5"/>
<circle cx="266.9" cy="110.5" r="1.5"/>
<circle cx="260.6" cy="93.3" r="1.5"/>
<circle cx="245.8" cy="89.5" r="1.5"/>
<circle cx="245.9" cy="84.7" r="1.5"/>
<circle cx="256.8" cy="126.2" r="1.5"/>
<circle cx="254.1" cy="138.7" r="1.5"/>
<circle cx="249.2" cy="161.4" r="1.5"/>
<circle cx="257.2" cy="149.5" r="1.5"/>
<circle cx="248.8" cy="128.9" r="1.5"/>
<circle cx="262.6" cy="104.5" r="1.5"/>
</g>
<line x1="242.5" y1="115.5" x2="271.5" y2="115.5" stroke="#555" stroke-width="1"/>
<line x1="320.5" y1="37" x2="320.5" y2="143.2" stroke="#858585" stroke-width="1"/>
<rect x="306.5" y="80.5" width="28.0" height="29.0" fill="#f9cfcf" stroke="#747474" stroke-width="1"/>
<g fill="#ee3c3c" fill-opacity="0.72" stroke="#fff" stroke-opacity="0.3" stroke-width="0.35">
<circle cx="328.4" cy="97.9" r="1.5"/>
<circle cx="324.0" cy="101.8" r="1.5"/>
<circle cx="320.9" cy="109.6" r="1.5"/>
<circle cx="329.2" cy="74.3" r="1.5"/>
<circle cx="318.2" cy="154.2" r="1.5"/>
<circle cx="320.7" cy="125.7" r="1.5"/>
<circle cx="321.9" cy="112.4" r="1.5"/>
<circle cx="325.6" cy="116.9" r="1.5"/>
<circle cx="323.0" cy="92.7" r="1.5"/>
<circle cx="318.8" cy="172.8" r="1.5"/>
<circle cx="318.6" cy="139.3" r="1.5"/>
<circle cx="315.8" cy="158.2" r="1.5"/>
<circle cx="325.9" cy="115.3" r="1.5"/>
<circle cx="327.0" cy="121.9" r="1.5"/>
<circle cx="311.4" cy="128.3" r="1.5"/>
<circle cx="315.2" cy="107.6" r="1.5"/>
<circle cx="325.1" cy="84.0" r="1.5"/>
<circle cx="310.4" cy="78.4" r="1.5"/>
<circle cx="310.6" cy="83.0" r="1.5"/>
<circle cx="318.2" cy="71.2" r="1.5"/>
<circle cx="320.1" cy="136.8" r="1.5"/>
<circle cx="308.4" cy="95.2" r="1.5"/>
<circle cx="329.6" cy="123.7" r="1.5"/>
<circle cx="311.7" cy="102.7" r="1.5"/>
<circle cx="308.5" cy="120.5" r="1.5"/>
<circle cx="320.7" cy="65.5" r="1.5"/>
<circle cx="322.5" cy="104.6" r="1.5"/>
<circle cx="321.0" cy="38.5" r="1.5"/>
<circle cx="326.4" cy="86.7" r="1.5"/>
<circle cx="316.1" cy="91.7" r="1.5"/>
<circle cx="309.7" cy="131.1" r="1.5"/>
<circle cx="312.2" cy="106.7" r="1.5"/>
<circle cx="318.1" cy="112.2" r="1.5"/>
<circle cx="319.1" cy="100.0" r="1.5"/>
<circle cx="308.8" cy="99.2" r="1.5"/>
<circle cx="326.5" cy="105.1" r="1.5"/>
<circle cx="310.3" cy="119.7" r="1.5"/>
<circle cx="316.9" cy="105.3" r="1.5"/>
<circle cx="312.8" cy="126.1" r="1.5"/>
<circle cx="313.6" cy="90.5" r="1.5"/>
<circle cx="325.4" cy="77.6" r="1.5"/>
<circle cx="321.2" cy="96.4" r="1.5"/>
<circle cx="324.0" cy="86.4" r="1.5"/>
<circle cx="317.7" cy="79.9" r="1.5"/>
<circle cx="321.2" cy="88.7" r="1.5"/>
<circle cx="315.9" cy="44.2" r="1.5"/>
<circle cx="311.5" cy="81.6" r="1.5"/>
<circle cx="323.1" cy="72.5" r="1.5"/>
<circle cx="313.0" cy="110.9" r="1.5"/>
<circle cx="311.3" cy="72.0" r="1.5"/>
<circle cx="330.7" cy="118.7" r="1.5"/>
<circle cx="322.0" cy="113.6" r="1.5"/>
<circle cx="309.7" cy="106.1" r="1.5"/>
<circle cx="323.6" cy="76.4" r="1.5"/>
<circle cx="323.3" cy="97.2" r="1.5"/>
<circle cx="321.6" cy="59.8" r="1.5"/>
<circle cx="317.3" cy="88.4" r="1.5"/>
<circle cx="308.1" cy="116.5" r="1.5"/>
<circle cx="318.3" cy="102.8" r="1.5"/>
<circle cx="330.2" cy="95.5" r="1.5"/>
<circle cx="321.0" cy="85.3" r="1.5"/>
<circle cx="331.2" cy="108.0" r="1.5"/>
<circle cx="332.7" cy="76.0" r="1.5"/>
<circle cx="316.7" cy="67.4" r="1.5"/>
<circle cx="309.2" cy="57.3" r="1.5"/>
<circle cx="327.0" cy="103.6" r="1.5"/>
<circle cx="332.1" cy="108.8" r="1.5"/>
<circle cx="316.6" cy="84.4" r="1.5"/>
<circle cx="309.5" cy="100.2" r="1.5"/>
<circle cx="324.7" cy="70.2" r="1.5"/>
<circle cx="328.8" cy="73.6" r="1.5"/>
<circle cx="315.9" cy="92.9" r="1.5"/>
<circle cx="316.5" cy="63.7" r="1.5"/>
<circle cx="314.8" cy="82.3" r="1.5"/>
<circle cx="330.1" cy="94.4" r="1.5"/>
<circle cx="318.0" cy="101.0" r="1.5"/>
<circle cx="318.7" cy="90.0" r="1.5"/>
<circle cx="321.5" cy="79.3" r="1.5"/>
<circle cx="318.6" cy="98.7" r="1.5"/>
<circle cx="320.5" cy="130.0" r="1.5"/>
<circle cx="329.8" cy="52.9" r="1.5"/>
<circle cx="320.8" cy="69.0" r="1.5"/>
</g>
<line x1="306.5" y1="97.5" x2="334.5" y2="97.5" stroke="#555" stroke-width="1"/>
<path d="M257 34.1 V32.2 H320.3 V34.1" fill="none" stroke="#707070" stroke-width="0.85"/>
<circle cx="285.45" cy="30.1" r="1.15" fill="#333"/>
<circle cx="288.65" cy="30.1" r="1.15" fill="#333"/>
<circle cx="291.85" cy="30.1" r="1.15" fill="#333"/>
<text x="392.0" y="15.0" font-size="17" font-weight="bold">C</text>
<text x="381.1" y="101.65" font-size="8.5" font-weight="bold" text-anchor="middle" transform="rotate(-90 381.1 101.65)" dominant-baseline="central">Risk score</text>
<rect x="406.8" y="22.5" width="138.90000000000003" height="160.5" fill="none" stroke="#a8a8a8" stroke-width="1.1"/>
<line x1="403.8" y1="35.800000000000004" x2="406.8" y2="35.800000000000004" stroke="#666" stroke-width="0.8"/>
<text x="401.8" y="38.35" font-size="7.3" font-weight="bold" text-anchor="end">1.0</text>
<line x1="403.8" y1="59.0" x2="406.8" y2="59.0" stroke="#666" stroke-width="0.8"/>
<text x="401.8" y="61.55" font-size="7.3" font-weight="bold" text-anchor="end">0.5</text>
<line x1="403.8" y1="82.2" x2="406.8" y2="82.2" stroke="#666" stroke-width="0.8"/>
<text x="401.8" y="84.75" font-size="7.3" font-weight="bold" text-anchor="end">0.0</text>
<line x1="403.8" y1="105.4" x2="406.8" y2="105.4" stroke="#666" stroke-width="0.8"/>
<text x="401.8" y="107.95" font-size="7.3" font-weight="bold" text-anchor="end">−0.5</text>
<line x1="403.8" y1="128.6" x2="406.8" y2="128.6" stroke="#666" stroke-width="0.8"/>
<text x="401.8" y="131.15" font-size="7.3" font-weight="bold" text-anchor="end">−1.0</text>
<line x1="403.8" y1="151.8" x2="406.8" y2="151.8" stroke="#666" stroke-width="0.8"/>
<text x="401.8" y="154.35000000000002" font-size="7.3" font-weight="bold" text-anchor="end">−1.5</text>
<line x1="403.8" y1="175.0" x2="406.8" y2="175.0" stroke="#666" stroke-width="0.8"/>
<text x="401.8" y="177.55" font-size="7.3" font-weight="bold" text-anchor="end">−2.0</text>
<line x1="444.8" y1="183" x2="444.8" y2="186" stroke="#666" stroke-width="0.8"/>
<text x="444.8" y="194.6" font-size="7.5" font-weight="bold" text-anchor="middle">N0</text>
<line x1="508" y1="183" x2="508" y2="186" stroke="#666" stroke-width="0.8"/>
<text x="508" y="194.6" font-size="7.5" font-weight="bold" text-anchor="middle">N1</text>
<line x1="444.5" y1="37" x2="444.5" y2="178" stroke="#858585" stroke-width="1"/>
<rect x="430.5" y="93.5" width="28.0" height="41.0" fill="#c9d7e8" stroke="#747474" stroke-width="1"/>
<g fill="#2c62ab" fill-opacity="0.74" stroke="#fff" stroke-opacity="0.3" stroke-width="0.35">
<circle cx="433.5" cy="137.2" r="1.5"/>
<circle cx="442.5" cy="109.6" r="1.5"/>
<circle cx="442.3" cy="105.9" r="1.5"/>
<circle cx="438.8" cy="178.2" r="1.5"/>
<circle cx="456.6" cy="86.6" r="1.5"/>
<circle cx="456.5" cy="139.3" r="1.5"/>
<circle cx="452.9" cy="84.4" r="1.5"/>
<circle cx="442.5" cy="130.8" r="1.5"/>
<circle cx="453.7" cy="91.0" r="1.5"/>
<circle cx="451.7" cy="151.4" r="1.5"/>
<circle cx="437.2" cy="115.4" r="1.5"/>
<circle cx="441.4" cy="133.7" r="1.5"/>
<circle cx="434.8" cy="141.0" r="1.5"/>
<circle cx="456.4" cy="147.1" r="1.5"/>
<circle cx="455.0" cy="138.3" r="1.5"/>
<circle cx="452.9" cy="133.9" r="1.5"/>
<circle cx="444.8" cy="89.4" r="1.5"/>
<circle cx="438.2" cy="92.9" r="1.5"/>
<circle cx="444.2" cy="74.7" r="1.5"/>
<circle cx="452.0" cy="62.2" r="1.5"/>
<circle cx="433.4" cy="80.9" r="1.5"/>
<circle cx="446.7" cy="74.0" r="1.5"/>
<circle cx="445.4" cy="106.7" r="1.5"/>
<circle cx="442.6" cy="72.7" r="1.5"/>
<circle cx="445.2" cy="142.8" r="1.5"/>
<circle cx="433.7" cy="140.6" r="1.5"/>
<circle cx="444.5" cy="140.5" r="1.5"/>
<circle cx="439.0" cy="134.5" r="1.5"/>
<circle cx="444.9" cy="93.7" r="1.5"/>
<circle cx="454.4" cy="86.8" r="1.5"/>
<circle cx="439.8" cy="83.7" r="1.5"/>
<circle cx="448.8" cy="167.8" r="1.5"/>
<circle cx="440.2" cy="101.6" r="1.5"/>
<circle cx="454.7" cy="109.3" r="1.5"/>
<circle cx="444.4" cy="97.7" r="1.5"/>
<circle cx="447.1" cy="77.3" r="1.5"/>
<circle cx="435.8" cy="132.0" r="1.5"/>
<circle cx="452.9" cy="141.6" r="1.5"/>
<circle cx="454.0" cy="114.5" r="1.5"/>
<circle cx="438.7" cy="122.7" r="1.5"/>
<circle cx="441.5" cy="104.6" r="1.5"/>
<circle cx="448.9" cy="157.5" r="1.5"/>
<circle cx="442.5" cy="111.7" r="1.5"/>
<circle cx="439.2" cy="123.2" r="1.5"/>
<circle cx="442.8" cy="92.4" r="1.5"/>
<circle cx="451.5" cy="158.7" r="1.5"/>
<circle cx="436.3" cy="110.9" r="1.5"/>
<circle cx="449.2" cy="97.3" r="1.5"/>
<circle cx="439.1" cy="138.0" r="1.5"/>
<circle cx="454.0" cy="82.4" r="1.5"/>
<circle cx="445.8" cy="116.8" r="1.5"/>
<circle cx="454.1" cy="159.4" r="1.5"/>
<circle cx="454.7" cy="108.2" r="1.5"/>
<circle cx="444.5" cy="103.3" r="1.5"/>
<circle cx="450.9" cy="88.3" r="1.5"/>
<circle cx="443.4" cy="137.6" r="1.5"/>
<circle cx="452.8" cy="124.3" r="1.5"/>
<circle cx="446.2" cy="102.5" r="1.5"/>
<circle cx="454.6" cy="149.1" r="1.5"/>
<circle cx="441.1" cy="56.8" r="1.5"/>
<circle cx="438.4" cy="108.0" r="1.5"/>
<circle cx="438.4" cy="142.2" r="1.5"/>
<circle cx="443.1" cy="149.9" r="1.5"/>
<circle cx="448.0" cy="97.0" r="1.5"/>
<circle cx="449.0" cy="87.6" r="1.5"/>
<circle cx="453.1" cy="126.8" r="1.5"/>
<circle cx="448.3" cy="107.7" r="1.5"/>
<circle cx="446.6" cy="90.1" r="1.5"/>
<circle cx="441.2" cy="96.8" r="1.5"/>
<circle cx="450.0" cy="83.4" r="1.5"/>
<circle cx="452.8" cy="94.1" r="1.5"/>
<circle cx="441.2" cy="92.1" r="1.5"/>
<circle cx="447.8" cy="84.7" r="1.5"/>
<circle cx="449.4" cy="142.1" r="1.5"/>
<circle cx="436.3" cy="111.1" r="1.5"/>
<circle cx="442.9" cy="119.6" r="1.5"/>
<circle cx="445.1" cy="134.9" r="1.5"/>
<circle cx="451.9" cy="127.3" r="1.5"/>
<circle cx="440.8" cy="103.5" r="1.5"/>
<circle cx="447.2" cy="110.6" r="1.5"/>
<circle cx="435.3" cy="150.7" r="1.5"/>
<circle cx="455.6" cy="131.7" r="1.5"/>
<circle cx="452.0" cy="115.8" r="1.5"/>
<circle cx="439.7" cy="104.8" r="1.5"/>
<circle cx="450.9" cy="83.2" r="1.5"/>
<circle cx="437.8" cy="162.8" r="1.5"/>
<circle cx="454.4" cy="132.3" r="1.5"/>
<circle cx="444.2" cy="129.9" r="1.5"/>
<circle cx="442.5" cy="78.1" r="1.5"/>
<circle cx="447.4" cy="145.9" r="1.5"/>
<circle cx="438.2" cy="112.4" r="1.5"/>
<circle cx="451.8" cy="151.6" r="1.5"/>
<circle cx="449.7" cy="125.3" r="1.5"/>
<circle cx="446.9" cy="139.2" r="1.5"/>
<circle cx="442.4" cy="84.2" r="1.5"/>
<circle cx="453.4" cy="120.3" r="1.5"/>
<circle cx="451.0" cy="80.2" r="1.5"/>
<circle cx="433.2" cy="114.6" r="1.5"/>
<circle cx="435.5" cy="108.8" r="1.5"/>
<circle cx="441.4" cy="135.3" r="1.5"/>
<circle cx="448.2" cy="141.3" r="1.5"/>
<circle cx="447.6" cy="107.4" r="1.5"/>
<circle cx="435.7" cy="133.1" r="1.5"/>
<circle cx="453.4" cy="85.1" r="1.5"/>
<circle cx="454.8" cy="38.2" r="1.5"/>
<circle cx="442.1" cy="146.5" r="1.5"/>
<circle cx="444.6" cy="95.2" r="1.5"/>
<circle cx="453.0" cy="94.9" r="1.5"/>
<circle cx="446.3" cy="89.3" r="1.5"/>
<circle cx="454.2" cy="86.1" r="1.5"/>
<circle cx="438.6" cy="96.4" r="1.5"/>
<circle cx="452.7" cy="113.2" r="1.5"/>
<circle cx="435.2" cy="149.8" r="1.5"/>
<circle cx="450.2" cy="144.1" r="1.5"/>
<circle cx="455.6" cy="104.1" r="1.5"/>
<circle cx="445.2" cy="129.0" r="1.5"/>
<circle cx="434.3" cy="113.8" r="1.5"/>
<circle cx="449.2" cy="129.2" r="1.5"/>
<circle cx="451.5" cy="104.3" r="1.5"/>
<circle cx="436.1" cy="143.2" r="1.5"/>
<circle cx="439.2" cy="103.8" r="1.5"/>
<circle cx="441.4" cy="136.8" r="1.5"/>
<circle cx="441.9" cy="115.7" r="1.5"/>
<circle cx="450.6" cy="105.6" r="1.5"/>
<circle cx="441.4" cy="135.9" r="1.5"/>
<circle cx="449.5" cy="98.6" r="1.5"/>
<circle cx="444.1" cy="102.8" r="1.5"/>
<circle cx="456.6" cy="92.6" r="1.5"/>
<circle cx="448.5" cy="119.1" r="1.5"/>
<circle cx="447.8" cy="117.6" r="1.5"/>
<circle cx="434.0" cy="101.2" r="1.5"/>
<circle cx="449.1" cy="107.0" r="1.5"/>
<circle cx="446.4" cy="102.3" r="1.5"/>
<circle cx="436.3" cy="148.5" r="1.5"/>
<circle cx="434.9" cy="118.4" r="1.5"/>
<circle cx="446.4" cy="116.5" r="1.5"/>
<circle cx="437.6" cy="36.2" r="1.5"/>
<circle cx="449.4" cy="91.2" r="1.5"/>
<circle cx="439.9" cy="87.0" r="1.5"/>
<circle cx="445.9" cy="67.9" r="1.5"/>
<circle cx="438.5" cy="82.2" r="1.5"/>
<circle cx="447.4" cy="87.4" r="1.5"/>
<circle cx="436.7" cy="100.1" r="1.5"/>
<circle cx="443.8" cy="125.5" r="1.5"/>
<circle cx="449.4" cy="126.0" r="1.5"/>
<circle cx="449.7" cy="98.8" r="1.5"/>
<circle cx="448.5" cy="119.9" r="1.5"/>
<circle cx="440.4" cy="144.8" r="1.5"/>
<circle cx="444.5" cy="137.9" r="1.5"/>
<circle cx="434.0" cy="131.0" r="1.5"/>
<circle cx="438.1" cy="109.6" r="1.5"/>
<circle cx="438.0" cy="143.7" r="1.5"/>
<circle cx="439.3" cy="139.8" r="1.5"/>
<circle cx="450.2" cy="146.3" r="1.5"/>
<circle cx="433.8" cy="112.7" r="1.5"/>
<circle cx="452.8" cy="100.4" r="1.5"/>
<circle cx="449.4" cy="81.7" r="1.5"/>
<circle cx="453.3" cy="75.5" r="1.5"/>
<circle cx="441.7" cy="106.2" r="1.5"/>
<circle cx="456.5" cy="161.9" r="1.5"/>
<circle cx="444.1" cy="144.3" r="1.5"/>
<circle cx="437.9" cy="100.6" r="1.5"/>
<circle cx="437.4" cy="124.9" r="1.5"/>
<circle cx="448.4" cy="105.5" r="1.5"/>
<circle cx="444.4" cy="145.0" r="1.5"/>
<circle cx="451.8" cy="71.0" r="1.5"/>
<circle cx="455.2" cy="99.7" r="1.5"/>
<circle cx="441.8" cy="130.2" r="1.5"/>
<circle cx="449.1" cy="91.6" r="1.5"/>
<circle cx="441.7" cy="71.8" r="1.5"/>
<circle cx="435.8" cy="99.5" r="1.5"/>
<circle cx="444.9" cy="127.5" r="1.5"/>
<circle cx="436.1" cy="65.4" r="1.5"/>
<circle cx="452.8" cy="128.0" r="1.5"/>
<circle cx="443.1" cy="117.2" r="1.5"/>
<circle cx="446.2" cy="95.8" r="1.5"/>
<circle cx="453.1" cy="154.0" r="1.5"/>
<circle cx="439.6" cy="60.7" r="1.5"/>
<circle cx="451.9" cy="85.6" r="1.5"/>
<circle cx="440.9" cy="156.5" r="1.5"/>
<circle cx="438.3" cy="121.3" r="1.5"/>
<circle cx="453.6" cy="154.9" r="1.5"/>
<circle cx="434.7" cy="152.1" r="1.5"/>
<circle cx="446.5" cy="147.8" r="1.5"/>
<circle cx="455.9" cy="123.5" r="1.5"/>
<circle cx="437.2" cy="85.5" r="1.5"/>
<circle cx="456.4" cy="77.5" r="1.5"/>
<circle cx="454.5" cy="136.4" r="1.5"/>
<circle cx="443.4" cy="93.6" r="1.5"/>
<circle cx="435.6" cy="90.4" r="1.5"/>
<circle cx="454.6" cy="82.7" r="1.5"/>
<circle cx="447.8" cy="128.6" r="1.5"/>
<circle cx="436.4" cy="113.6" r="1.5"/>
<circle cx="455.7" cy="96.5" r="1.5"/>
<circle cx="450.7" cy="123.9" r="1.5"/>
<circle cx="448.5" cy="90.7" r="1.5"/>
<circle cx="439.0" cy="108.7" r="1.5"/>
<circle cx="450.2" cy="105.2" r="1.5"/>
<circle cx="455.2" cy="76.6" r="1.5"/>
<circle cx="440.5" cy="91.6" r="1.5"/>
<circle cx="445.5" cy="142.9" r="1.5"/>
<circle cx="450.4" cy="134.5" r="1.5"/>
<circle cx="441.2" cy="93.2" r="1.5"/>
<circle cx="455.5" cy="95.3" r="1.5"/>
<circle cx="454.5" cy="126.5" r="1.5"/>
<circle cx="447.4" cy="88.0" r="1.5"/>
<circle cx="448.8" cy="138.9" r="1.5"/>
<circle cx="446.1" cy="70.4" r="1.5"/>
<circle cx="442.5" cy="117.9" r="1.5"/>
<circle cx="437.9" cy="94.6" r="1.5"/>
<circle cx="436.9" cy="95.9" r="1.5"/>
<circle cx="450.4" cy="88.5" r="1.5"/>
<circle cx="438.7" cy="99.2" r="1.5"/>
<circle cx="453.1" cy="112.2" r="1.5"/>
<circle cx="438.9" cy="145.3" r="1.5"/>
<circle cx="449.0" cy="79.2" r="1.5"/>
<circle cx="442.3" cy="169.3" r="1.5"/>
<circle cx="450.0" cy="107.1" r="1.5"/>
<circle cx="456.3" cy="132.6" r="1.5"/>
<circle cx="433.6" cy="140.0" r="1.5"/>
<circle cx="436.8" cy="102.2" r="1.5"/>
<circle cx="450.2" cy="110.0" r="1.5"/>
<circle cx="440.3" cy="101.6" r="1.5"/>
<circle cx="449.3" cy="121.7" r="1.5"/>
<circle cx="454.9" cy="175.0" r="1.5"/>
<circle cx="447.9" cy="88.9" r="1.5"/>
<circle cx="441.1" cy="153.6" r="1.5"/>
<circle cx="450.0" cy="80.3" r="1.5"/>
<circle cx="446.7" cy="121.9" r="1.5"/>
<circle cx="454.8" cy="89.7" r="1.5"/>
<circle cx="453.1" cy="79.4" r="1.5"/>
<circle cx="433.3" cy="100.9" r="1.5"/>
<circle cx="455.8" cy="129.6" r="1.5"/>
<circle cx="450.1" cy="118.9" r="1.5"/>
<circle cx="448.0" cy="120.8" r="1.5"/>
<circle cx="447.2" cy="136.2" r="1.5"/>
<circle cx="445.0" cy="94.3" r="1.5"/>
<circle cx="436.1" cy="98.4" r="1.5"/>
<circle cx="452.3" cy="135.6" r="1.5"/>
<circle cx="433.1" cy="98.1" r="1.5"/>
<circle cx="449.6" cy="86.2" r="1.5"/>
<circle cx="436.0" cy="78.6" r="1.5"/>
<circle cx="455.3" cy="122.4" r="1.5"/>
</g>
<line x1="430.5" y1="110.5" x2="458.5" y2="110.5" stroke="#555" stroke-width="1"/>
<line x1="508.5" y1="51" x2="508.5" y2="141" stroke="#858585" stroke-width="1"/>
<rect x="493.5" y="75.5" width="29.0" height="38.0" fill="#f9cfcf" stroke="#747474" stroke-width="1"/>
<g fill="#ee3c3c" fill-opacity="0.72" stroke="#fff" stroke-opacity="0.3" stroke-width="0.35">
<circle cx="513.2" cy="51.0" r="1.5"/>
<circle cx="498.0" cy="64.2" r="1.5"/>
<circle cx="508.8" cy="66.2" r="1.5"/>
<circle cx="504.0" cy="76.2" r="1.5"/>
<circle cx="506.8" cy="76.2" r="1.5"/>
<circle cx="518.0" cy="84.2" r="1.5"/>
<circle cx="510.0" cy="85.8" r="1.5"/>
<circle cx="507.2" cy="97.0" r="1.5"/>
<circle cx="516.0" cy="101.0" r="1.5"/>
<circle cx="500.8" cy="109.8" r="1.5"/>
<circle cx="506.8" cy="109.0" r="1.5"/>
<circle cx="510.0" cy="124.2" r="1.5"/>
<circle cx="508.8" cy="128.2" r="1.5"/>
<circle cx="514.8" cy="138.2" r="1.5"/>
<circle cx="513.2" cy="141.8" r="1.5"/>
</g>
<line x1="493.5" y1="90.5" x2="522.5" y2="90.5" stroke="#555" stroke-width="1"/>
<path d="M444.8 34.1 V32.2 H508 V34.1" fill="none" stroke="#707070" stroke-width="0.85"/>
<circle cx="476.40" cy="30.1" r="1.15" fill="#333"/>
<text x="12.1" y="214.4" font-size="17" font-weight="bold">D</text>
<text x="6.3" y="301.65" font-size="8.5" font-weight="bold" text-anchor="middle" transform="rotate(-90 6.3 301.65)" dominant-baseline="central">Risk score</text>
<rect x="26" y="222.5" width="144.5" height="160.5" fill="none" stroke="#a8a8a8" stroke-width="1.1"/>
<line x1="23" y1="255.0" x2="26" y2="255.0" stroke="#666" stroke-width="0.8"/>
<text x="21" y="257.55" font-size="7.3" font-weight="bold" text-anchor="end">1</text>
<line x1="23" y1="293.75" x2="26" y2="293.75" stroke="#666" stroke-width="0.8"/>
<text x="21" y="296.3" font-size="7.3" font-weight="bold" text-anchor="end">0</text>
<line x1="23" y1="332.5" x2="26" y2="332.5" stroke="#666" stroke-width="0.8"/>
<text x="21" y="335.05" font-size="7.3" font-weight="bold" text-anchor="end">−1</text>
<line x1="23" y1="371.25" x2="26" y2="371.25" stroke="#666" stroke-width="0.8"/>
<text x="21" y="373.8" font-size="7.3" font-weight="bold" text-anchor="end">−2</text>
<line x1="46.8" y1="383" x2="46.8" y2="386" stroke="#666" stroke-width="0.8"/>
<text x="46.8" y="394.6" font-size="7.5" font-weight="bold" text-anchor="middle">Stage I</text>
<line x1="81.2" y1="383" x2="81.2" y2="386" stroke="#666" stroke-width="0.8"/>
<text x="81.2" y="394.6" font-size="7.5" font-weight="bold" text-anchor="middle">Stage II</text>
<line x1="115.2" y1="383" x2="115.2" y2="386" stroke="#666" stroke-width="0.8"/>
<text x="115.2" y="394.6" font-size="7.5" font-weight="bold" text-anchor="middle">Stage III</text>
<line x1="149.2" y1="383" x2="149.2" y2="386" stroke="#666" stroke-width="0.8"/>
<text x="149.2" y="394.6" font-size="7.5" font-weight="bold" text-anchor="middle">Stage IV</text>
<line x1="46.5" y1="270.5" x2="46.5" y2="365.8" stroke="#858585" stroke-width="1"/>
<rect x="38.5" y="313.5" width="17.0" height="30.0" fill="#c9d7e8" stroke="#747474" stroke-width="1"/>
<g fill="#1d4f96" fill-opacity="0.85" stroke="#fff" stroke-opacity="0.3" stroke-width="0.35">
<circle cx="50.8" cy="338.9" r="1.35"/>
<circle cx="45.0" cy="308.0" r="1.35"/>
<circle cx="47.2" cy="332.1" r="1.35"/>
<circle cx="43.7" cy="320.6" r="1.35"/>
<circle cx="49.0" cy="309.3" r="1.35"/>
<circle cx="43.7" cy="335.7" r="1.35"/>
<circle cx="50.4" cy="314.8" r="1.35"/>
<circle cx="48.0" cy="327.2" r="1.35"/>
<circle cx="46.2" cy="318.4" r="1.35"/>
<circle cx="46.8" cy="294.7" r="1.35"/>
<circle cx="43.2" cy="352.8" r="1.35"/>
<circle cx="44.1" cy="346.2" r="1.35"/>
<circle cx="47.0" cy="347.0" r="1.35"/>
<circle cx="48.3" cy="271.8" r="1.35"/>
<circle cx="48.4" cy="289.1" r="1.35"/>
<circle cx="50.9" cy="304.7" r="1.35"/>
<circle cx="45.9" cy="351.2" r="1.35"/>
<circle cx="47.8" cy="325.4" r="1.35"/>
<circle cx="44.8" cy="344.9" r="1.35"/>
<circle cx="48.5" cy="337.2" r="1.35"/>
<circle cx="45.6" cy="318.0" r="1.35"/>
<circle cx="48.1" cy="336.5" r="1.35"/>
<circle cx="46.2" cy="324.8" r="1.35"/>
<circle cx="49.5" cy="338.2" r="1.35"/>
<circle cx="48.9" cy="308.7" r="1.35"/>
<circle cx="47.3" cy="311.6" r="1.35"/>
<circle cx="49.3" cy="341.9" r="1.35"/>
<circle cx="48.7" cy="337.5" r="1.35"/>
<circle cx="47.9" cy="304.3" r="1.35"/>
<circle cx="48.9" cy="328.7" r="1.35"/>
<circle cx="43.5" cy="351.1" r="1.35"/>
<circle cx="49.8" cy="275.6" r="1.35"/>
<circle cx="45.1" cy="329.8" r="1.35"/>
<circle cx="44.9" cy="356.0" r="1.35"/>
<circle cx="49.8" cy="280.7" r="1.35"/>
<circle cx="47.4" cy="357.3" r="1.35"/>
<circle cx="45.1" cy="348.8" r="1.35"/>
<circle cx="44.6" cy="328.9" r="1.35"/>
<circle cx="46.4" cy="312.2" r="1.35"/>
<circle cx="44.7" cy="321.6" r="1.35"/>
<circle cx="42.2" cy="275.6" r="1.35"/>
<circle cx="44.4" cy="345.2" r="1.35"/>
<circle cx="48.4" cy="310.5" r="1.35"/>
<circle cx="42.7" cy="280.7" r="1.35"/>
<circle cx="46.1" cy="352.4" r="1.35"/>
<circle cx="45.0" cy="347.7" r="1.35"/>
<circle cx="44.3" cy="348.2" r="1.35"/>
<circle cx="45.7" cy="316.6" r="1.35"/>
<circle cx="44.9" cy="306.5" r="1.35"/>
<circle cx="46.4" cy="350.8" r="1.35"/>
<circle cx="44.3" cy="346.1" r="1.35"/>
<circle cx="44.4" cy="331.2" r="1.35"/>
<circle cx="44.4" cy="338.2" r="1.35"/>
<circle cx="45.8" cy="324.2" r="1.35"/>
<circle cx="49.7" cy="332.3" r="1.35"/>
<circle cx="43.4" cy="330.2" r="1.35"/>
<circle cx="45.7" cy="318.8" r="1.35"/>
<circle cx="46.9" cy="320.3" r="1.35"/>
<circle cx="47.2" cy="322.3" r="1.35"/>
<circle cx="50.0" cy="334.6" r="1.35"/>
<circle cx="49.8" cy="325.9" r="1.35"/>
<circle cx="46.2" cy="343.8" r="1.35"/>
<circle cx="48.9" cy="295.6" r="1.35"/>
<circle cx="45.3" cy="271.0" r="1.35"/>
<circle cx="46.5" cy="342.7" r="1.35"/>
<circle cx="49.2" cy="347.3" r="1.35"/>
<circle cx="46.3" cy="326.5" r="1.35"/>
<circle cx="49.4" cy="350.5" r="1.35"/>
<circle cx="44.8" cy="358.1" r="1.35"/>
<circle cx="45.3" cy="356.8" r="1.35"/>
<circle cx="47.6" cy="315.6" r="1.35"/>
<circle cx="44.1" cy="328.3" r="1.35"/>
<circle cx="48.6" cy="344.8" r="1.35"/>
<circle cx="48.5" cy="343.7" r="1.35"/>
<circle cx="45.9" cy="329.9" r="1.35"/>
<circle cx="44.2" cy="349.1" r="1.35"/>
<circle cx="45.0" cy="361.4" r="1.35"/>
<circle cx="44.8" cy="314.1" r="1.35"/>
<circle cx="43.5" cy="319.9" r="1.35"/>
<circle cx="50.3" cy="324.0" r="1.35"/>
<circle cx="43.9" cy="344.2" r="1.35"/>
<circle cx="42.7" cy="300.7" r="1.35"/>
<circle cx="49.5" cy="313.2" r="1.35"/>
<circle cx="46.6" cy="312.5" r="1.35"/>
<circle cx="48.2" cy="353.3" r="1.35"/>
<circle cx="46.1" cy="352.0" r="1.35"/>
<circle cx="43.9" cy="342.1" r="1.35"/>
<circle cx="44.3" cy="338.6" r="1.35"/>
<circle cx="43.2" cy="337.6" r="1.35"/>
<circle cx="45.9" cy="296.6" r="1.35"/>
<circle cx="45.0" cy="323.8" r="1.35"/>
<circle cx="47.9" cy="332.7" r="1.35"/>
<circle cx="47.0" cy="319.1" r="1.35"/>
<circle cx="44.3" cy="316.4" r="1.35"/>
<circle cx="43.1" cy="326.1" r="1.35"/>
<circle cx="48.5" cy="318.5" r="1.35"/>
<circle cx="44.8" cy="354.8" r="1.35"/>
<circle cx="47.4" cy="330.6" r="1.35"/>
<circle cx="44.4" cy="346.8" r="1.35"/>
<circle cx="42.6" cy="353.5" r="1.35"/>
<circle cx="44.8" cy="307.6" r="1.35"/>
<circle cx="49.7" cy="325.2" r="1.35"/>
<circle cx="46.0" cy="308.3" r="1.35"/>
<circle cx="44.2" cy="333.1" r="1.35"/>
<circle cx="44.6" cy="355.3" r="1.35"/>
<circle cx="46.8" cy="330.7" r="1.35"/>
<circle cx="50.4" cy="344.1" r="1.35"/>
<circle cx="43.0" cy="302.1" r="1.35"/>
<circle cx="48.1" cy="321.0" r="1.35"/>
<circle cx="42.6" cy="321.8" r="1.35"/>
<circle cx="50.2" cy="317.8" r="1.35"/>
<circle cx="44.1" cy="339.7" r="1.35"/>
<circle cx="44.8" cy="325.0" r="1.35"/>
<circle cx="48.6" cy="342.5" r="1.35"/>
<circle cx="43.9" cy="317.0" r="1.35"/>
<circle cx="47.1" cy="329.3" r="1.35"/>
<circle cx="48.7" cy="365.8" r="1.35"/>
<circle cx="49.3" cy="344.7" r="1.35"/>
<circle cx="45.5" cy="337.0" r="1.35"/>
<circle cx="46.6" cy="312.7" r="1.35"/>
<circle cx="46.0" cy="346.4" r="1.35"/>
<circle cx="50.8" cy="345.5" r="1.35"/>
<circle cx="45.0" cy="319.6" r="1.35"/>
<circle cx="43.9" cy="345.7" r="1.35"/>
<circle cx="46.1" cy="326.8" r="1.35"/>
<circle cx="42.9" cy="351.5" r="1.35"/>
<circle cx="46.3" cy="328.0" r="1.35"/>
<circle cx="45.4" cy="331.6" r="1.35"/>
<circle cx="44.0" cy="373.8" r="1.35"/>
<circle cx="48.1" cy="345.9" r="1.35"/>
<circle cx="44.1" cy="317.3" r="1.35"/>
<circle cx="46.1" cy="308.8" r="1.35"/>
<circle cx="43.5" cy="350.0" r="1.35"/>
<circle cx="47.0" cy="333.7" r="1.35"/>
<circle cx="50.9" cy="310.7" r="1.35"/>
<circle cx="43.7" cy="323.3" r="1.35"/>
<circle cx="49.8" cy="305.9" r="1.35"/>
<circle cx="49.0" cy="344.4" r="1.35"/>
<circle cx="48.9" cy="324.3" r="1.35"/>
<circle cx="47.6" cy="300.9" r="1.35"/>
<circle cx="49.0" cy="348.4" r="1.35"/>
<circle cx="50.6" cy="302.7" r="1.35"/>
<circle cx="50.0" cy="340.3" r="1.35"/>
<circle cx="46.8" cy="340.8" r="1.35"/>
<circle cx="48.1" cy="336.0" r="1.35"/>
<circle cx="45.8" cy="333.9" r="1.35"/>
<circle cx="50.1" cy="299.0" r="1.35"/>
<circle cx="46.0" cy="332.4" r="1.35"/>
<circle cx="43.8" cy="284.6" r="1.35"/>
<circle cx="47.0" cy="303.6" r="1.35"/>
<circle cx="47.6" cy="322.0" r="1.35"/>
<circle cx="49.3" cy="314.4" r="1.35"/>
<circle cx="47.2" cy="312.9" r="1.35"/>
<circle cx="49.9" cy="313.6" r="1.35"/>
<circle cx="45.8" cy="309.1" r="1.35"/>
<circle cx="46.7" cy="323.1" r="1.35"/>
<circle cx="47.9" cy="310.0" r="1.35"/>
<circle cx="48.2" cy="311.0" r="1.35"/>
<circle cx="45.2" cy="334.9" r="1.35"/>
<circle cx="49.4" cy="309.7" r="1.35"/>
<circle cx="47.5" cy="347.9" r="1.35"/>
<circle cx="49.6" cy="354.4" r="1.35"/>
<circle cx="45.9" cy="298.5" r="1.35"/>
<circle cx="43.5" cy="327.5" r="1.35"/>
<circle cx="50.5" cy="327.7" r="1.35"/>
<circle cx="47.0" cy="321.3" r="1.35"/>
<circle cx="43.9" cy="291.2" r="1.35"/>
<circle cx="46.3" cy="312.0" r="1.35"/>
<circle cx="48.7" cy="340.8" r="1.35"/>
<circle cx="49.5" cy="331.4" r="1.35"/>
<circle cx="45.5" cy="349.5" r="1.35"/>
<circle cx="46.3" cy="322.8" r="1.35"/>
<circle cx="48.7" cy="320.2" r="1.35"/>
<circle cx="48.6" cy="311.3" r="1.35"/>
<circle cx="43.4" cy="342.9" r="1.35"/>
<circle cx="43.4" cy="349.0" r="1.35"/>
<circle cx="44.3" cy="300.1" r="1.35"/>
<circle cx="48.5" cy="306.2" r="1.35"/>
<circle cx="44.7" cy="322.7" r="1.35"/>
<circle cx="48.7" cy="341.5" r="1.35"/>
<circle cx="44.5" cy="303.6" r="1.35"/>
<circle cx="50.2" cy="348.6" r="1.35"/>
<circle cx="43.1" cy="302.6" r="1.35"/>
<circle cx="50.3" cy="347.6" r="1.35"/>
<circle cx="45.8" cy="335.1" r="1.35"/>
<circle cx="44.0" cy="341.3" r="1.35"/>
<circle cx="49.0" cy="316.0" r="1.35"/>
<circle cx="49.8" cy="315.4" r="1.35"/>
<circle cx="49.5" cy="314.3" r="1.35"/>
<circle cx="43.6" cy="340.2" r="1.35"/>
<circle cx="48.2" cy="345.4" r="1.35"/>
<circle cx="49.7" cy="305.2" r="1.35"/>
<circle cx="42.9" cy="307.7" r="1.35"/>
<circle cx="46.0" cy="339.3" r="1.35"/>
<circle cx="48.2" cy="319.3" r="1.35"/>
<circle cx="49.2" cy="307.1" r="1.35"/>
<circle cx="47.1" cy="335.4" r="1.35"/>
<circle cx="44.5" cy="343.2" r="1.35"/>
<circle cx="49.8" cy="326.2" r="1.35"/>
<circle cx="45.9" cy="328.4" r="1.35"/>
<circle cx="48.0" cy="297.4" r="1.35"/>
<circle cx="49.8" cy="317.6" r="1.35"/>
<circle cx="46.8" cy="310.1" r="1.35"/>
<circle cx="47.8" cy="311.1" r="1.35"/>
<circle cx="45.4" cy="349.8" r="1.35"/>
<circle cx="43.2" cy="305.6" r="1.35"/>
<circle cx="44.8" cy="315.1" r="1.35"/>
<circle cx="45.1" cy="349.3" r="1.35"/>
<circle cx="45.6" cy="346.5" r="1.35"/>
<circle cx="43.1" cy="313.7" r="1.35"/>
<circle cx="44.3" cy="339.6" r="1.35"/>
<circle cx="46.7" cy="347.1" r="1.35"/>
<circle cx="50.9" cy="362.4" r="1.35"/>
<circle cx="48.8" cy="353.1" r="1.35"/>
<circle cx="44.2" cy="333.6" r="1.35"/>
<circle cx="48.5" cy="301.5" r="1.35"/>
<circle cx="44.3" cy="307.0" r="1.35"/>
<circle cx="43.7" cy="293.8" r="1.35"/>
<circle cx="44.5" cy="306.2" r="1.35"/>
<circle cx="51.0" cy="315.9" r="1.35"/>
<circle cx="45.1" cy="334.3" r="1.35"/>
<circle cx="43.8" cy="336.7" r="1.35"/>
</g>
<line x1="38.5" y1="328.5" x2="55.5" y2="328.5" stroke="#555" stroke-width="1"/>
<line x1="81.5" y1="279.4" x2="81.5" y2="364.2" stroke="#858585" stroke-width="1"/>
<rect x="73.5" y="303.5" width="16.0" height="31.0" fill="#f9cfcf" stroke="#747474" stroke-width="1"/>
<g fill="#ee2a2a" fill-opacity="0.8" stroke="#fff" stroke-opacity="0.3" stroke-width="0.35">
<circle cx="79.1" cy="327.6" r="1.45"/>
<circle cx="81.8" cy="345.1" r="1.45"/>
<circle cx="84.4" cy="315.4" r="1.45"/>
<circle cx="79.3" cy="342.0" r="1.45"/>
<circle cx="80.6" cy="294.8" r="1.45"/>
<circle cx="82.7" cy="280.7" r="1.45"/>
<circle cx="77.5" cy="307.3" r="1.45"/>
<circle cx="77.9" cy="331.5" r="1.45"/>
<circle cx="79.2" cy="326.4" r="1.45"/>
<circle cx="83.1" cy="301.8" r="1.45"/>
<circle cx="83.8" cy="303.6" r="1.45"/>
<circle cx="83.9" cy="342.5" r="1.45"/>
<circle cx="85.9" cy="305.2" r="1.45"/>
<circle cx="86.1" cy="329.4" r="1.45"/>
<circle cx="82.6" cy="340.9" r="1.45"/>
<circle cx="79.3" cy="333.1" r="1.45"/>
<circle cx="82.7" cy="310.7" r="1.45"/>
<circle cx="77.8" cy="279.4" r="1.45"/>
<circle cx="85.3" cy="303.0" r="1.45"/>
<circle cx="78.9" cy="319.1" r="1.45"/>
<circle cx="79.4" cy="303.8" r="1.45"/>
<circle cx="82.6" cy="297.8" r="1.45"/>
<circle cx="78.1" cy="337.9" r="1.45"/>
<circle cx="82.0" cy="319.7" r="1.45"/>
<circle cx="77.5" cy="322.7" r="1.45"/>
<circle cx="80.1" cy="335.6" r="1.45"/>
<circle cx="83.8" cy="347.6" r="1.45"/>
<circle cx="86.2" cy="313.9" r="1.45"/>
<circle cx="85.4" cy="299.7" r="1.45"/>
<circle cx="80.7" cy="302.3" r="1.45"/>
<circle cx="83.7" cy="325.1" r="1.45"/>
<circle cx="81.5" cy="362.7" r="1.45"/>
<circle cx="84.3" cy="322.0" r="1.45"/>
<circle cx="79.8" cy="300.3" r="1.45"/>
<circle cx="81.4" cy="298.6" r="1.45"/>
<circle cx="82.0" cy="308.1" r="1.45"/>
<circle cx="79.8" cy="349.8" r="1.45"/>
<circle cx="83.4" cy="318.2" r="1.45"/>
<circle cx="86.0" cy="336.9" r="1.45"/>
<circle cx="80.0" cy="316.6" r="1.45"/>
<circle cx="81.7" cy="312.5" r="1.45"/>
<circle cx="77.1" cy="334.7" r="1.45"/>
<circle cx="85.8" cy="331.9" r="1.45"/>
<circle cx="79.8" cy="297.0" r="1.45"/>
<circle cx="76.8" cy="291.7" r="1.45"/>
<circle cx="85.1" cy="324.2" r="1.45"/>
<circle cx="80.1" cy="308.7" r="1.45"/>
<circle cx="76.6" cy="301.3" r="1.45"/>
<circle cx="80.7" cy="339.7" r="1.45"/>
<circle cx="83.9" cy="311.3" r="1.45"/>
</g>
<line x1="73.5" y1="318.5" x2="89.5" y2="318.5" stroke="#555" stroke-width="1"/>
<line x1="115.5" y1="258.3" x2="115.5" y2="357" stroke="#858585" stroke-width="1"/>
<rect x="107.5" y="301.5" width="16.0" height="30.0" fill="#d3ecd0" stroke="#747474" stroke-width="1"/>
<g fill="#55bb50" fill-opacity="0.55" stroke="#fff" stroke-opacity="0.3" stroke-width="0.35">
<circle cx="119.8" cy="303.1" r="1.45"/>
<circle cx="116.3" cy="357.2" r="1.45"/>
<circle cx="114.5" cy="308.6" r="1.45"/>
<circle cx="116.8" cy="307.8" r="1.45"/>
<circle cx="111.4" cy="295.0" r="1.45"/>
<circle cx="117.8" cy="300.7" r="1.45"/>
<circle cx="114.3" cy="306.9" r="1.45"/>
<circle cx="119.2" cy="310.3" r="1.45"/>
<circle cx="119.5" cy="296.6" r="1.45"/>
<circle cx="119.0" cy="324.9" r="1.45"/>
<circle cx="114.1" cy="329.0" r="1.45"/>
<circle cx="119.0" cy="279.4" r="1.45"/>
<circle cx="118.8" cy="324.0" r="1.45"/>
<circle cx="117.8" cy="309.9" r="1.45"/>
<circle cx="111.3" cy="320.6" r="1.45"/>
<circle cx="112.2" cy="338.0" r="1.45"/>
<circle cx="114.1" cy="306.2" r="1.45"/>
<circle cx="119.1" cy="299.4" r="1.45"/>
<circle cx="120.0" cy="327.9" r="1.45"/>
<circle cx="117.6" cy="314.4" r="1.45"/>
<circle cx="113.4" cy="326.6" r="1.45"/>
<circle cx="111.3" cy="333.6" r="1.45"/>
<circle cx="115.6" cy="318.4" r="1.45"/>
<circle cx="115.2" cy="301.1" r="1.45"/>
<circle cx="119.0" cy="309.1" r="1.45"/>
<circle cx="116.6" cy="317.7" r="1.45"/>
<circle cx="115.3" cy="298.4" r="1.45"/>
<circle cx="115.5" cy="334.3" r="1.45"/>
<circle cx="111.3" cy="309.7" r="1.45"/>
<circle cx="113.8" cy="299.0" r="1.45"/>
<circle cx="113.1" cy="302.5" r="1.45"/>
<circle cx="119.0" cy="297.2" r="1.45"/>
<circle cx="110.4" cy="315.8" r="1.45"/>
<circle cx="111.0" cy="325.8" r="1.45"/>
<circle cx="117.9" cy="332.3" r="1.45"/>
<circle cx="114.8" cy="337.2" r="1.45"/>
<circle cx="116.7" cy="345.0" r="1.45"/>
<circle cx="117.8" cy="271.8" r="1.45"/>
<circle cx="115.0" cy="378.2" r="1.45"/>
<circle cx="117.5" cy="291.6" r="1.45"/>
<circle cx="110.5" cy="322.4" r="1.45"/>
<circle cx="119.7" cy="305.5" r="1.45"/>
<circle cx="119.0" cy="307.1" r="1.45"/>
<circle cx="112.1" cy="309.4" r="1.45"/>
<circle cx="115.5" cy="328.7" r="1.45"/>
<circle cx="117.6" cy="311.7" r="1.45"/>
<circle cx="114.4" cy="316.4" r="1.45"/>
<circle cx="111.8" cy="332.9" r="1.45"/>
<circle cx="116.6" cy="308.1" r="1.45"/>
<circle cx="111.1" cy="305.8" r="1.45"/>
<circle cx="115.9" cy="287.1" r="1.45"/>
<circle cx="119.0" cy="339.1" r="1.45"/>
<circle cx="113.6" cy="336.8" r="1.45"/>
<circle cx="110.5" cy="301.8" r="1.45"/>
<circle cx="115.9" cy="343.0" r="1.45"/>
<circle cx="116.5" cy="319.1" r="1.45"/>
<circle cx="111.1" cy="335.4" r="1.45"/>
<circle cx="112.4" cy="300.6" r="1.45"/>
<circle cx="111.9" cy="304.7" r="1.45"/>
<circle cx="113.9" cy="307.3" r="1.45"/>
<circle cx="113.1" cy="296.8" r="1.45"/>
<circle cx="119.3" cy="342.1" r="1.45"/>
<circle cx="118.3" cy="334.5" r="1.45"/>
<circle cx="110.4" cy="299.6" r="1.45"/>
<circle cx="116.1" cy="301.6" r="1.45"/>
<circle cx="119.2" cy="337.8" r="1.45"/>
<circle cx="117.9" cy="298.0" r="1.45"/>
<circle cx="117.1" cy="321.8" r="1.45"/>
<circle cx="114.5" cy="290.5" r="1.45"/>
<circle cx="114.9" cy="351.0" r="1.45"/>
<circle cx="111.4" cy="300.1" r="1.45"/>
<circle cx="116.5" cy="257.8" r="1.45"/>
<circle cx="112.9" cy="305.3" r="1.45"/>
<circle cx="118.1" cy="313.8" r="1.45"/>
<circle cx="118.3" cy="331.6" r="1.45"/>
<circle cx="116.8" cy="330.0" r="1.45"/>
<circle cx="111.5" cy="294.1" r="1.45"/>
<circle cx="119.4" cy="341.2" r="1.45"/>
<circle cx="120.1" cy="347.8" r="1.45"/>
<circle cx="118.6" cy="313.3" r="1.45"/>
<circle cx="118.7" cy="294.3" r="1.45"/>
<circle cx="113.4" cy="320.0" r="1.45"/>
<circle cx="119.0" cy="338.7" r="1.45"/>
<circle cx="118.8" cy="344.3" r="1.45"/>
<circle cx="114.9" cy="302.2" r="1.45"/>
<circle cx="119.2" cy="297.5" r="1.45"/>
<circle cx="117.3" cy="304.5" r="1.45"/>
<circle cx="117.0" cy="293.4" r="1.45"/>
<circle cx="119.3" cy="336.2" r="1.45"/>
<circle cx="112.2" cy="335.8" r="1.45"/>
<circle cx="112.5" cy="303.3" r="1.45"/>
<circle cx="112.1" cy="331.3" r="1.45"/>
<circle cx="112.2" cy="312.5" r="1.45"/>
<circle cx="110.9" cy="286.9" r="1.45"/>
<circle cx="118.4" cy="303.7" r="1.45"/>
<circle cx="119.9" cy="304.0" r="1.45"/>
<circle cx="114.6" cy="340.6" r="1.45"/>
<circle cx="110.5" cy="295.6" r="1.45"/>
<circle cx="118.0" cy="310.6" r="1.45"/>
<circle cx="114.6" cy="333.4" r="1.45"/>
<circle cx="117.9" cy="323.5" r="1.45"/>
<circle cx="119.2" cy="298.7" r="1.45"/>
</g>
<line x1="107.5" y1="311.5" x2="123.5" y2="311.5" stroke="#555" stroke-width="1"/>
<line x1="150.5" y1="256.5" x2="150.5" y2="347.8" stroke="#858585" stroke-width="1"/>
<rect x="142.5" y="294.5" width="15.0" height="25.0" fill="#c9e9f1" stroke="#747474" stroke-width="1"/>
<g fill="#25a2c9" fill-opacity="0.7" stroke="#fff" stroke-opacity="0.3" stroke-width="0.35">
<circle cx="152.1" cy="321.4" r="1.4"/>
<circle cx="151.7" cy="320.5" r="1.4"/>
<circle cx="146.1" cy="324.0" r="1.4"/>
<circle cx="153.3" cy="290.2" r="1.4"/>
<circle cx="152.8" cy="316.6" r="1.4"/>
<circle cx="144.6" cy="284.0" r="1.4"/>
<circle cx="154.5" cy="312.5" r="1.4"/>
<circle cx="155.1" cy="311.3" r="1.4"/>
<circle cx="152.1" cy="315.8" r="1.4"/>
<circle cx="149.0" cy="329.8" r="1.4"/>
<circle cx="145.5" cy="334.9" r="1.4"/>
<circle cx="151.6" cy="319.9" r="1.4"/>
<circle cx="153.0" cy="326.9" r="1.4"/>
<circle cx="148.1" cy="294.5" r="1.4"/>
<circle cx="148.0" cy="373.8" r="1.4"/>
<circle cx="154.6" cy="310.3" r="1.4"/>
<circle cx="144.8" cy="347.8" r="1.4"/>
<circle cx="151.6" cy="308.9" r="1.4"/>
<circle cx="147.5" cy="299.4" r="1.4"/>
<circle cx="150.4" cy="307.2" r="1.4"/>
<circle cx="154.3" cy="304.0" r="1.4"/>
<circle cx="147.0" cy="271.8" r="1.4"/>
<circle cx="146.8" cy="311.6" r="1.4"/>
<circle cx="154.6" cy="302.3" r="1.4"/>
<circle cx="149.4" cy="332.1" r="1.4"/>
<circle cx="150.4" cy="304.9" r="1.4"/>
<circle cx="152.1" cy="317.5" r="1.4"/>
<circle cx="154.8" cy="309.7" r="1.4"/>
<circle cx="153.6" cy="305.2" r="1.4"/>
<circle cx="153.7" cy="290.9" r="1.4"/>
<circle cx="149.1" cy="256.5" r="1.4"/>
<circle cx="152.9" cy="297.8" r="1.4"/>
<circle cx="152.1" cy="326.6" r="1.4"/>
<circle cx="155.4" cy="314.3" r="1.4"/>
<circle cx="147.8" cy="293.8" r="1.4"/>
<circle cx="150.0" cy="357.0" r="1.4"/>
<circle cx="147.4" cy="318.4" r="1.4"/>
<circle cx="153.0" cy="302.7" r="1.4"/>
<circle cx="151.1" cy="286.9" r="1.4"/>
<circle cx="154.6" cy="289.5" r="1.4"/>
<circle cx="146.3" cy="308.5" r="1.4"/>
<circle cx="144.8" cy="291.3" r="1.4"/>
<circle cx="145.8" cy="284.5" r="1.4"/>
<circle cx="154.2" cy="292.3" r="1.4"/>
<circle cx="149.4" cy="295.2" r="1.4"/>
<circle cx="145.2" cy="322.1" r="1.4"/>
<circle cx="155.4" cy="298.6" r="1.4"/>
<circle cx="147.4" cy="313.0" r="1.4"/>
<circle cx="144.7" cy="322.8" r="1.4"/>
<circle cx="148.3" cy="339.3" r="1.4"/>
<circle cx="153.8" cy="291.8" r="1.4"/>
<circle cx="151.2" cy="288.5" r="1.4"/>
<circle cx="149.5" cy="287.7" r="1.4"/>
<circle cx="154.9" cy="292.7" r="1.4"/>
<circle cx="155.3" cy="280.0" r="1.4"/>
<circle cx="149.3" cy="314.7" r="1.4"/>
<circle cx="151.7" cy="296.9" r="1.4"/>
<circle cx="149.0" cy="299.9" r="1.4"/>
<circle cx="147.3" cy="316.9" r="1.4"/>
<circle cx="147.0" cy="300.6" r="1.4"/>
<circle cx="149.9" cy="324.7" r="1.4"/>
<circle cx="151.6" cy="267.5" r="1.4"/>
<circle cx="145.6" cy="328.0" r="1.4"/>
<circle cx="152.3" cy="293.3" r="1.4"/>
<circle cx="151.4" cy="306.3" r="1.4"/>
</g>
<line x1="142.5" y1="307.5" x2="157.5" y2="307.5" stroke="#555" stroke-width="1"/>
<path d="M81.2 234.3 V232.4 H149.2 V234.3" fill="none" stroke="#707070" stroke-width="0.85"/>
<circle cx="115.20" cy="230.3" r="1.15" fill="#333"/>
<path d="M46.8 242.20000000000002 V240.3 H149.2 V242.20000000000002" fill="none" stroke="#707070" stroke-width="0.85"/>
<circle cx="94.80" cy="238.20000000000002" r="1.15" fill="#333"/>
<circle cx="98.00" cy="238.20000000000002" r="1.15" fill="#333"/>
<circle cx="101.20" cy="238.20000000000002" r="1.15" fill="#333"/>
<path d="M46.8 250.1 V248.2 H115.2 V250.1" fill="none" stroke="#707070" stroke-width="0.85"/>
<circle cx="77.80" cy="246.1" r="1.15" fill="#333"/>
<circle cx="81.00" cy="246.1" r="1.15" fill="#333"/>
<circle cx="84.20" cy="246.1" r="1.15" fill="#333"/>
<text x="203.5" y="214.4" font-size="17" font-weight="bold">E</text>
<text x="193.7" y="301.65" font-size="8.5" font-weight="bold" text-anchor="middle" transform="rotate(-90 193.7 301.65)" dominant-baseline="central">Risk score</text>
<rect x="219.3" y="222.5" width="139.0" height="160.5" fill="none" stroke="#a8a8a8" stroke-width="1.1"/>
<line x1="216.3" y1="235.75" x2="219.3" y2="235.75" stroke="#666" stroke-width="0.8"/>
<text x="214.3" y="238.3" font-size="7.3" font-weight="bold" text-anchor="end">1.0</text>
<line x1="216.3" y1="258.125" x2="219.3" y2="258.125" stroke="#666" stroke-width="0.8"/>
<text x="214.3" y="260.675" font-size="7.3" font-weight="bold" text-anchor="end">0.5</text>
<line x1="216.3" y1="280.5" x2="219.3" y2="280.5" stroke="#666" stroke-width="0.8"/>
<text x="214.3" y="283.05" font-size="7.3" font-weight="bold" text-anchor="end">0.0</text>
<line x1="216.3" y1="302.875" x2="219.3" y2="302.875" stroke="#666" stroke-width="0.8"/>
<text x="214.3" y="305.425" font-size="7.3" font-weight="bold" text-anchor="end">−0.5</text>
<line x1="216.3" y1="325.25" x2="219.3" y2="325.25" stroke="#666" stroke-width="0.8"/>
<text x="214.3" y="327.8" font-size="7.3" font-weight="bold" text-anchor="end">−1.0</text>
<line x1="216.3" y1="347.625" x2="219.3" y2="347.625" stroke="#666" stroke-width="0.8"/>
<text x="214.3" y="350.175" font-size="7.3" font-weight="bold" text-anchor="end">−1.5</text>
<line x1="216.3" y1="370.0" x2="219.3" y2="370.0" stroke="#666" stroke-width="0.8"/>
<text x="214.3" y="372.55" font-size="7.3" font-weight="bold" text-anchor="end">−2.0</text>
<line x1="257.4" y1="383" x2="257.4" y2="386" stroke="#666" stroke-width="0.8"/>
<text x="257.4" y="394.6" font-size="7.5" font-weight="bold" text-anchor="middle">female</text>
<line x1="320.4" y1="383" x2="320.4" y2="386" stroke="#666" stroke-width="0.8"/>
<text x="320.4" y="394.6" font-size="7.5" font-weight="bold" text-anchor="middle">male</text>
<line x1="257.5" y1="236.6" x2="257.5" y2="373.8" stroke="#858585" stroke-width="1"/>
<rect x="242.5" y="294.5" width="30.0" height="40.0" fill="#c9d7e8" stroke="#747474" stroke-width="1"/>
<g fill="#2c62ab" fill-opacity="0.72" stroke="#fff" stroke-opacity="0.3" stroke-width="0.35">
<circle cx="255.8" cy="342.3" r="1.55"/>
<circle cx="267.1" cy="327.2" r="1.55"/>
<circle cx="261.8" cy="339.4" r="1.55"/>
<circle cx="264.5" cy="271.9" r="1.55"/>
<circle cx="260.9" cy="299.8" r="1.55"/>
<circle cx="249.4" cy="277.3" r="1.55"/>
<circle cx="266.5" cy="332.7" r="1.55"/>
<circle cx="261.8" cy="302.9" r="1.55"/>
<circle cx="256.4" cy="306.9" r="1.55"/>
<circle cx="257.4" cy="290.1" r="1.55"/>
<circle cx="261.2" cy="294.2" r="1.55"/>
<circle cx="251.7" cy="331.6" r="1.55"/>
<circle cx="262.1" cy="343.1" r="1.55"/>
<circle cx="250.7" cy="321.0" r="1.55"/>
<circle cx="251.6" cy="282.2" r="1.55"/>
<circle cx="250.7" cy="292.0" r="1.55"/>
<circle cx="251.6" cy="257.3" r="1.55"/>
<circle cx="262.4" cy="373.4" r="1.55"/>
<circle cx="251.7" cy="345.9" r="1.55"/>
<circle cx="257.7" cy="313.4" r="1.55"/>
<circle cx="264.3" cy="300.9" r="1.55"/>
<circle cx="265.8" cy="344.6" r="1.55"/>
<circle cx="261.5" cy="331.3" r="1.55"/>
<circle cx="263.0" cy="328.5" r="1.55"/>
<circle cx="265.2" cy="311.8" r="1.55"/>
<circle cx="249.9" cy="293.2" r="1.55"/>
<circle cx="250.6" cy="326.2" r="1.55"/>
<circle cx="247.3" cy="332.7" r="1.55"/>
<circle cx="253.0" cy="343.6" r="1.55"/>
<circle cx="265.0" cy="308.2" r="1.55"/>
<circle cx="252.3" cy="328.9" r="1.55"/>
<circle cx="261.1" cy="318.5" r="1.55"/>
<circle cx="255.4" cy="299.2" r="1.55"/>
<circle cx="262.1" cy="342.9" r="1.55"/>
<circle cx="255.5" cy="309.5" r="1.55"/>
<circle cx="250.4" cy="306.2" r="1.55"/>
<circle cx="258.8" cy="340.8" r="1.55"/>
<circle cx="253.4" cy="344.9" r="1.55"/>
<circle cx="259.2" cy="338.9" r="1.55"/>
<circle cx="251.6" cy="323.6" r="1.55"/>
<circle cx="256.6" cy="286.7" r="1.55"/>
<circle cx="254.0" cy="254.6" r="1.55"/>
<circle cx="263.8" cy="312.9" r="1.55"/>
<circle cx="255.7" cy="324.8" r="1.55"/>
<circle cx="256.9" cy="320.1" r="1.55"/>
<circle cx="262.0" cy="348.3" r="1.55"/>
<circle cx="256.8" cy="281.2" r="1.55"/>
<circle cx="252.5" cy="308.9" r="1.55"/>
<circle cx="260.2" cy="328.0" r="1.55"/>
<circle cx="247.9" cy="349.3" r="1.55"/>
<circle cx="249.2" cy="284.5" r="1.55"/>
<circle cx="259.7" cy="301.4" r="1.55"/>
<circle cx="248.8" cy="334.9" r="1.55"/>
<circle cx="251.1" cy="351.9" r="1.55"/>
<circle cx="266.1" cy="309.5" r="1.55"/>
<circle cx="251.1" cy="297.8" r="1.55"/>
<circle cx="257.5" cy="352.5" r="1.55"/>
<circle cx="254.6" cy="317.8" r="1.55"/>
<circle cx="250.9" cy="315.9" r="1.55"/>
<circle cx="267.2" cy="236.6" r="1.55"/>
<circle cx="251.7" cy="338.4" r="1.55"/>
<circle cx="263.7" cy="338.8" r="1.55"/>
<circle cx="252.3" cy="317.5" r="1.55"/>
<circle cx="247.3" cy="326.5" r="1.55"/>
<circle cx="266.8" cy="295.9" r="1.55"/>
<circle cx="251.4" cy="297.1" r="1.55"/>
<circle cx="247.7" cy="292.8" r="1.55"/>
<circle cx="267.7" cy="296.4" r="1.55"/>
<circle cx="253.4" cy="348.0" r="1.55"/>
<circle cx="262.5" cy="318.9" r="1.55"/>
<circle cx="261.4" cy="344.2" r="1.55"/>
<circle cx="248.7" cy="334.4" r="1.55"/>
<circle cx="249.3" cy="275.4" r="1.55"/>
<circle cx="261.8" cy="276.6" r="1.55"/>
<circle cx="258.1" cy="330.2" r="1.55"/>
<circle cx="248.0" cy="269.5" r="1.55"/>
<circle cx="263.5" cy="335.7" r="1.55"/>
<circle cx="248.9" cy="340.2" r="1.55"/>
<circle cx="258.2" cy="289.9" r="1.55"/>
<circle cx="256.8" cy="265.0" r="1.55"/>
<circle cx="250.6" cy="278.9" r="1.55"/>
<circle cx="254.8" cy="300.2" r="1.55"/>
<circle cx="252.2" cy="265.3" r="1.55"/>
<circle cx="259.1" cy="325.0" r="1.55"/>
<circle cx="265.3" cy="351.4" r="1.55"/>
<circle cx="262.6" cy="293.4" r="1.55"/>
<circle cx="255.0" cy="338.0" r="1.55"/>
<circle cx="265.8" cy="315.2" r="1.55"/>
<circle cx="252.5" cy="286.0" r="1.55"/>
<circle cx="261.8" cy="320.7" r="1.55"/>
<circle cx="252.6" cy="330.8" r="1.55"/>
<circle cx="254.5" cy="323.1" r="1.55"/>
<circle cx="263.8" cy="290.7" r="1.55"/>
<circle cx="247.5" cy="273.7" r="1.55"/>
<circle cx="250.0" cy="333.3" r="1.55"/>
<circle cx="250.9" cy="336.6" r="1.55"/>
<circle cx="265.6" cy="307.4" r="1.55"/>
<circle cx="250.9" cy="341.0" r="1.55"/>
<circle cx="248.1" cy="306.0" r="1.55"/>
<circle cx="249.2" cy="341.6" r="1.55"/>
<circle cx="255.6" cy="373.4" r="1.55"/>
<circle cx="264.3" cy="346.9" r="1.55"/>
<circle cx="252.0" cy="342.1" r="1.55"/>
<circle cx="251.3" cy="322.2" r="1.55"/>
<circle cx="257.0" cy="288.6" r="1.55"/>
<circle cx="263.4" cy="321.5" r="1.55"/>
<circle cx="267.1" cy="298.6" r="1.55"/>
<circle cx="267.1" cy="303.8" r="1.55"/>
<circle cx="263.0" cy="323.5" r="1.55"/>
<circle cx="259.5" cy="292.1" r="1.55"/>
<circle cx="259.0" cy="325.7" r="1.55"/>
<circle cx="259.2" cy="314.6" r="1.55"/>
<circle cx="260.8" cy="287.6" r="1.55"/>
<circle cx="256.8" cy="289.3" r="1.55"/>
<circle cx="249.8" cy="304.4" r="1.55"/>
<circle cx="256.5" cy="298.5" r="1.55"/>
<circle cx="258.4" cy="254.6" r="1.55"/>
<circle cx="252.3" cy="334.2" r="1.55"/>
<circle cx="257.9" cy="333.5" r="1.55"/>
<circle cx="267.1" cy="322.3" r="1.55"/>
<circle cx="258.0" cy="355.0" r="1.55"/>
<circle cx="258.6" cy="282.2" r="1.55"/>
<circle cx="267.1" cy="283.9" r="1.55"/>
<circle cx="247.3" cy="310.2" r="1.55"/>
<circle cx="251.9" cy="303.2" r="1.55"/>
<circle cx="255.7" cy="333.8" r="1.55"/>
<circle cx="255.0" cy="357.9" r="1.55"/>
<circle cx="260.6" cy="290.5" r="1.55"/>
<circle cx="255.9" cy="321.6" r="1.55"/>
<circle cx="256.8" cy="319.6" r="1.55"/>
<circle cx="264.4" cy="327.7" r="1.55"/>
<circle cx="252.5" cy="324.0" r="1.55"/>
<circle cx="256.9" cy="295.1" r="1.55"/>
<circle cx="259.1" cy="305.2" r="1.55"/>
<circle cx="266.8" cy="294.4" r="1.55"/>
<circle cx="261.7" cy="325.8" r="1.55"/>
<circle cx="264.8" cy="264.8" r="1.55"/>
<circle cx="266.6" cy="293.9" r="1.55"/>
<circle cx="249.1" cy="357.3" r="1.55"/>
<circle cx="251.4" cy="286.0" r="1.55"/>
<circle cx="257.7" cy="289.2" r="1.55"/>
<circle cx="258.7" cy="337.2" r="1.55"/>
<circle cx="259.7" cy="348.7" r="1.55"/>
<circle cx="258.0" cy="312.1" r="1.55"/>
<circle cx="252.4" cy="345.6" r="1.55"/>
<circle cx="254.5" cy="353.8" r="1.55"/>
<circle cx="249.4" cy="288.0" r="1.55"/>
<circle cx="249.8" cy="324.3" r="1.55"/>
<circle cx="248.6" cy="292.7" r="1.55"/>
<circle cx="248.5" cy="287.0" r="1.55"/>
<circle cx="254.1" cy="336.3" r="1.55"/>
<circle cx="267.2" cy="328.4" r="1.55"/>
<circle cx="263.7" cy="320.0" r="1.55"/>
<circle cx="250.5" cy="285.3" r="1.55"/>
<circle cx="252.0" cy="313.7" r="1.55"/>
<circle cx="256.1" cy="279.7" r="1.55"/>
<circle cx="247.0" cy="330.9" r="1.55"/>
<circle cx="257.9" cy="285.2" r="1.55"/>
<circle cx="262.4" cy="291.3" r="1.55"/>
<circle cx="263.5" cy="340.0" r="1.55"/>
<circle cx="248.3" cy="280.5" r="1.55"/>
<circle cx="254.6" cy="291.6" r="1.55"/>
<circle cx="253.0" cy="310.8" r="1.55"/>
<circle cx="250.1" cy="350.2" r="1.55"/>
<circle cx="253.6" cy="287.3" r="1.55"/>
<circle cx="251.1" cy="330.1" r="1.55"/>
<circle cx="247.1" cy="288.7" r="1.55"/>
<circle cx="258.7" cy="283.2" r="1.55"/>
<circle cx="267.0" cy="347.4" r="1.55"/>
<circle cx="265.7" cy="316.0" r="1.55"/>
<circle cx="259.5" cy="329.5" r="1.55"/>
<circle cx="250.1" cy="337.3" r="1.55"/>
<circle cx="251.8" cy="322.9" r="1.55"/>
<circle cx="250.3" cy="327.0" r="1.55"/>
<circle cx="261.8" cy="332.1" r="1.55"/>
<circle cx="250.7" cy="316.8" r="1.55"/>
<circle cx="265.3" cy="329.8" r="1.55"/>
<circle cx="256.4" cy="302.1" r="1.55"/>
<circle cx="261.5" cy="335.5" r="1.55"/>
<circle cx="252.2" cy="361.4" r="1.55"/>
</g>
<line x1="242.5" y1="319.5" x2="272.5" y2="319.5" stroke="#555" stroke-width="1"/>
<line x1="320.5" y1="250.3" x2="320.5" y2="362.3" stroke="#858585" stroke-width="1"/>
<rect x="306.5" y="294.5" width="28.0" height="33.0" fill="#fbd3d3" stroke="#747474" stroke-width="1"/>
<g fill="#ff1c1c" fill-opacity="0.72" stroke="#fff" stroke-opacity="0.3" stroke-width="0.35">
<circle cx="318.7" cy="291.9" r="1.45"/>
<circle cx="319.7" cy="284.9" r="1.45"/>
<circle cx="327.3" cy="334.9" r="1.45"/>
<circle cx="313.4" cy="313.1" r="1.45"/>
<circle cx="317.8" cy="303.6" r="1.45"/>
<circle cx="313.8" cy="282.7" r="1.45"/>
<circle cx="322.4" cy="343.1" r="1.45"/>
<circle cx="325.6" cy="308.2" r="1.45"/>
<circle cx="314.5" cy="285.7" r="1.45"/>
<circle cx="311.5" cy="323.4" r="1.45"/>
<circle cx="320.6" cy="320.8" r="1.45"/>
<circle cx="312.4" cy="280.5" r="1.45"/>
<circle cx="318.2" cy="291.8" r="1.45"/>
<circle cx="327.0" cy="281.3" r="1.45"/>
<circle cx="318.9" cy="278.3" r="1.45"/>
<circle cx="321.6" cy="316.3" r="1.45"/>
<circle cx="322.2" cy="335.9" r="1.45"/>
<circle cx="320.8" cy="285.8" r="1.45"/>
<circle cx="319.0" cy="337.9" r="1.45"/>
<circle cx="328.6" cy="341.0" r="1.45"/>
<circle cx="321.1" cy="345.3" r="1.45"/>
<circle cx="321.5" cy="295.0" r="1.45"/>
<circle cx="309.3" cy="303.9" r="1.45"/>
<circle cx="320.9" cy="275.9" r="1.45"/>
<circle cx="320.0" cy="342.2" r="1.45"/>
<circle cx="329.4" cy="266.4" r="1.45"/>
<circle cx="319.6" cy="257.7" r="1.45"/>
<circle cx="318.4" cy="327.2" r="1.45"/>
<circle cx="310.3" cy="321.8" r="1.45"/>
<circle cx="324.6" cy="335.6" r="1.45"/>
<circle cx="316.4" cy="336.4" r="1.45"/>
<circle cx="316.7" cy="303.0" r="1.45"/>
<circle cx="317.5" cy="296.8" r="1.45"/>
<circle cx="328.6" cy="338.4" r="1.45"/>
<circle cx="319.8" cy="290.9" r="1.45"/>
<circle cx="315.4" cy="307.7" r="1.45"/>
<circle cx="310.5" cy="298.1" r="1.45"/>
<circle cx="319.6" cy="312.1" r="1.45"/>
<circle cx="329.6" cy="298.6" r="1.45"/>
<circle cx="331.3" cy="310.6" r="1.45"/>
<circle cx="310.5" cy="297.8" r="1.45"/>
<circle cx="313.2" cy="323.1" r="1.45"/>
<circle cx="314.7" cy="320.4" r="1.45"/>
<circle cx="315.1" cy="306.1" r="1.45"/>
<circle cx="328.3" cy="314.8" r="1.45"/>
<circle cx="326.9" cy="276.6" r="1.45"/>
<circle cx="324.1" cy="271.9" r="1.45"/>
<circle cx="318.5" cy="270.8" r="1.45"/>
<circle cx="312.0" cy="274.0" r="1.45"/>
<circle cx="317.7" cy="339.2" r="1.45"/>
<circle cx="326.9" cy="305.6" r="1.45"/>
<circle cx="319.8" cy="310.2" r="1.45"/>
<circle cx="326.2" cy="327.7" r="1.45"/>
<circle cx="319.3" cy="328.9" r="1.45"/>
<circle cx="317.1" cy="293.1" r="1.45"/>
<circle cx="320.1" cy="334.5" r="1.45"/>
<circle cx="323.8" cy="325.6" r="1.45"/>
<circle cx="315.2" cy="323.6" r="1.45"/>
<circle cx="320.6" cy="348.1" r="1.45"/>
<circle cx="312.7" cy="331.2" r="1.45"/>
<circle cx="325.5" cy="325.7" r="1.45"/>
<circle cx="330.9" cy="341.3" r="1.45"/>
<circle cx="315.4" cy="343.5" r="1.45"/>
<circle cx="311.2" cy="298.9" r="1.45"/>
<circle cx="326.0" cy="299.1" r="1.45"/>
<circle cx="326.2" cy="282.1" r="1.45"/>
<circle cx="327.7" cy="327.9" r="1.45"/>
<circle cx="329.6" cy="340.5" r="1.45"/>
<circle cx="316.1" cy="263.3" r="1.45"/>
<circle cx="318.7" cy="329.7" r="1.45"/>
<circle cx="326.7" cy="346.8" r="1.45"/>
<circle cx="309.9" cy="311.6" r="1.45"/>
<circle cx="314.9" cy="326.3" r="1.45"/>
<circle cx="322.0" cy="378.5" r="1.45"/>
<circle cx="324.2" cy="333.2" r="1.45"/>
<circle cx="317.3" cy="319.9" r="1.45"/>
<circle cx="309.5" cy="327.4" r="1.45"/>
<circle cx="314.8" cy="347.3" r="1.45"/>
<circle cx="330.9" cy="322.1" r="1.45"/>
<circle cx="318.8" cy="330.6" r="1.45"/>
<circle cx="331.0" cy="301.4" r="1.45"/>
<circle cx="313.4" cy="279.8" r="1.45"/>
<circle cx="313.0" cy="291.2" r="1.45"/>
<circle cx="316.7" cy="333.2" r="1.45"/>
<circle cx="319.0" cy="302.4" r="1.45"/>
<circle cx="324.2" cy="332.0" r="1.45"/>
<circle cx="324.3" cy="300.8" r="1.45"/>
<circle cx="329.4" cy="283.2" r="1.45"/>
<circle cx="320.6" cy="283.5" r="1.45"/>
<circle cx="320.7" cy="323.8" r="1.45"/>
<circle cx="323.5" cy="311.1" r="1.45"/>
<circle cx="317.1" cy="301.9" r="1.45"/>
<circle cx="316.6" cy="297.3" r="1.45"/>
<circle cx="318.5" cy="322.4" r="1.45"/>
<circle cx="330.4" cy="319.1" r="1.45"/>
<circle cx="323.0" cy="305.1" r="1.45"/>
<circle cx="317.4" cy="324.9" r="1.45"/>
<circle cx="330.1" cy="307.4" r="1.45"/>
<circle cx="320.5" cy="282.7" r="1.45"/>
<circle cx="319.7" cy="316.5" r="1.45"/>
<circle cx="312.8" cy="289.4" r="1.45"/>
<circle cx="329.0" cy="317.4" r="1.45"/>
<circle cx="322.0" cy="307.1" r="1.45"/>
<circle cx="311.4" cy="334.3" r="1.45"/>
<circle cx="317.0" cy="336.9" r="1.45"/>
<circle cx="315.7" cy="348.4" r="1.45"/>
<circle cx="326.8" cy="313.8" r="1.45"/>
<circle cx="314.0" cy="353.2" r="1.45"/>
<circle cx="321.6" cy="317.0" r="1.45"/>
<circle cx="325.3" cy="339.1" r="1.45"/>
<circle cx="329.6" cy="281.5" r="1.45"/>
<circle cx="330.7" cy="315.9" r="1.45"/>
<circle cx="330.1" cy="335.0" r="1.45"/>
<circle cx="325.6" cy="358.9" r="1.45"/>
<circle cx="314.9" cy="301.2" r="1.45"/>
<circle cx="317.3" cy="355.8" r="1.45"/>
<circle cx="309.3" cy="339.7" r="1.45"/>
<circle cx="322.4" cy="326.5" r="1.45"/>
<circle cx="326.4" cy="346.0" r="1.45"/>
<circle cx="318.5" cy="304.4" r="1.45"/>
<circle cx="323.5" cy="288.4" r="1.45"/>
<circle cx="319.1" cy="290.4" r="1.45"/>
<circle cx="312.8" cy="289.0" r="1.45"/>
<circle cx="330.6" cy="304.9" r="1.45"/>
<circle cx="329.4" cy="305.3" r="1.45"/>
<circle cx="313.7" cy="286.4" r="1.45"/>
<circle cx="328.3" cy="294.4" r="1.45"/>
<circle cx="329.8" cy="293.3" r="1.45"/>
<circle cx="322.0" cy="304.5" r="1.45"/>
<circle cx="321.9" cy="322.3" r="1.45"/>
<circle cx="316.2" cy="268.0" r="1.45"/>
<circle cx="330.7" cy="273.0" r="1.45"/>
<circle cx="327.3" cy="309.5" r="1.45"/>
<circle cx="318.7" cy="284.2" r="1.45"/>
<circle cx="310.0" cy="361.0" r="1.45"/>
<circle cx="312.3" cy="317.9" r="1.45"/>
<circle cx="312.4" cy="288.2" r="1.45"/>
<circle cx="327.9" cy="321.0" r="1.45"/>
<circle cx="321.3" cy="297.2" r="1.45"/>
<circle cx="311.2" cy="337.9" r="1.45"/>
<circle cx="318.9" cy="299.1" r="1.45"/>
<circle cx="324.1" cy="344.8" r="1.45"/>
<circle cx="313.3" cy="329.2" r="1.45"/>
<circle cx="322.4" cy="322.8" r="1.45"/>
<circle cx="329.6" cy="313.9" r="1.45"/>
<circle cx="324.8" cy="324.1" r="1.45"/>
<circle cx="323.9" cy="308.8" r="1.45"/>
<circle cx="331.5" cy="325.5" r="1.45"/>
<circle cx="310.5" cy="331.3" r="1.45"/>
<circle cx="309.7" cy="297.7" r="1.45"/>
<circle cx="323.3" cy="283.8" r="1.45"/>
<circle cx="312.5" cy="294.3" r="1.45"/>
<circle cx="317.4" cy="337.2" r="1.45"/>
<circle cx="327.8" cy="324.3" r="1.45"/>
<circle cx="317.3" cy="282.5" r="1.45"/>
<circle cx="318.9" cy="293.5" r="1.45"/>
<circle cx="328.9" cy="302.8" r="1.45"/>
<circle cx="322.3" cy="336.6" r="1.45"/>
<circle cx="319.4" cy="309.8" r="1.45"/>
<circle cx="315.9" cy="320.1" r="1.45"/>
<circle cx="329.9" cy="306.5" r="1.45"/>
<circle cx="314.2" cy="276.8" r="1.45"/>
<circle cx="322.5" cy="291.0" r="1.45"/>
<circle cx="320.1" cy="290.7" r="1.45"/>
<circle cx="309.3" cy="304.2" r="1.45"/>
<circle cx="310.2" cy="336.1" r="1.45"/>
<circle cx="320.1" cy="306.5" r="1.45"/>
<circle cx="316.3" cy="305.9" r="1.45"/>
<circle cx="326.3" cy="328.4" r="1.45"/>
<circle cx="313.3" cy="295.1" r="1.45"/>
<circle cx="315.2" cy="316.8" r="1.45"/>
<circle cx="330.3" cy="287.4" r="1.45"/>
<circle cx="325.2" cy="286.9" r="1.45"/>
<circle cx="314.4" cy="360.0" r="1.45"/>
<circle cx="311.1" cy="311.7" r="1.45"/>
<circle cx="325.8" cy="331.6" r="1.45"/>
<circle cx="317.1" cy="339.8" r="1.45"/>
<circle cx="318.9" cy="301.2" r="1.45"/>
<circle cx="322.1" cy="302.7" r="1.45"/>
<circle cx="329.4" cy="332.3" r="1.45"/>
<circle cx="325.1" cy="278.4" r="1.45"/>
<circle cx="315.0" cy="284.4" r="1.45"/>
<circle cx="319.6" cy="315.6" r="1.45"/>
<circle cx="310.5" cy="302.2" r="1.45"/>
<circle cx="316.8" cy="294.8" r="1.45"/>
<circle cx="326.0" cy="310.2" r="1.45"/>
<circle cx="324.9" cy="291.4" r="1.45"/>
<circle cx="317.8" cy="299.4" r="1.45"/>
<circle cx="325.0" cy="301.7" r="1.45"/>
<circle cx="320.7" cy="329.9" r="1.45"/>
<circle cx="325.6" cy="298.3" r="1.45"/>
<circle cx="325.8" cy="254.3" r="1.45"/>
<circle cx="319.9" cy="295.6" r="1.45"/>
<circle cx="325.3" cy="285.3" r="1.45"/>
<circle cx="330.0" cy="313.5" r="1.45"/>
<circle cx="311.4" cy="315.0" r="1.45"/>
<circle cx="316.0" cy="330.2" r="1.45"/>
<circle cx="310.8" cy="251.7" r="1.45"/>
<circle cx="318.2" cy="310.0" r="1.45"/>
<circle cx="315.3" cy="287.1" r="1.45"/>
<circle cx="312.0" cy="318.6" r="1.45"/>
<circle cx="315.4" cy="337.5" r="1.45"/>
<circle cx="329.0" cy="277.6" r="1.45"/>
<circle cx="321.5" cy="298.8" r="1.45"/>
<circle cx="310.8" cy="333.8" r="1.45"/>
<circle cx="327.4" cy="312.9" r="1.45"/>
<circle cx="316.7" cy="331.5" r="1.45"/>
<circle cx="311.1" cy="289.6" r="1.45"/>
<circle cx="313.7" cy="279.0" r="1.45"/>
<circle cx="325.9" cy="315.4" r="1.45"/>
<circle cx="321.7" cy="283.7" r="1.45"/>
<circle cx="317.9" cy="296.4" r="1.45"/>
<circle cx="324.5" cy="321.3" r="1.45"/>
<circle cx="310.6" cy="320.6" r="1.45"/>
<circle cx="324.2" cy="334.6" r="1.45"/>
<circle cx="320.6" cy="331.9" r="1.45"/>
<circle cx="318.6" cy="284.5" r="1.45"/>
<circle cx="317.2" cy="326.0" r="1.45"/>
<circle cx="331.4" cy="305.8" r="1.45"/>
<circle cx="315.3" cy="324.8" r="1.45"/>
<circle cx="311.2" cy="329.5" r="1.45"/>
<circle cx="330.0" cy="296.1" r="1.45"/>
<circle cx="320.0" cy="335.4" r="1.45"/>
<circle cx="317.3" cy="272.1" r="1.45"/>
<circle cx="330.6" cy="325.2" r="1.45"/>
<circle cx="324.2" cy="328.6" r="1.45"/>
<circle cx="311.7" cy="300.4" r="1.45"/>
<circle cx="325.8" cy="310.9" r="1.45"/>
<circle cx="329.5" cy="314.1" r="1.45"/>
<circle cx="312.0" cy="300.0" r="1.45"/>
<circle cx="313.3" cy="290.2" r="1.45"/>
<circle cx="331.4" cy="334.1" r="1.45"/>
<circle cx="312.8" cy="316.1" r="1.45"/>
<circle cx="312.4" cy="303.5" r="1.45"/>
<circle cx="314.2" cy="332.5" r="1.45"/>
<circle cx="324.4" cy="302.3" r="1.45"/>
<circle cx="322.4" cy="269.1" r="1.45"/>
<circle cx="322.3" cy="307.3" r="1.45"/>
<circle cx="314.7" cy="330.1" r="1.45"/>
<circle cx="330.8" cy="323.9" r="1.45"/>
<circle cx="311.0" cy="329.3" r="1.45"/>
<circle cx="325.7" cy="294.0" r="1.45"/>
<circle cx="318.8" cy="333.7" r="1.45"/>
<circle cx="312.7" cy="326.3" r="1.45"/>
<circle cx="309.8" cy="318.4" r="1.45"/>
<circle cx="325.5" cy="308.1" r="1.45"/>
<circle cx="318.2" cy="333.4" r="1.45"/>
<circle cx="329.9" cy="329.0" r="1.45"/>
<circle cx="321.6" cy="293.7" r="1.45"/>
<circle cx="320.4" cy="280.1" r="1.45"/>
<circle cx="328.2" cy="330.9" r="1.45"/>
<circle cx="321.6" cy="320.6" r="1.45"/>
<circle cx="327.2" cy="260.2" r="1.45"/>
<circle cx="329.3" cy="295.2" r="1.45"/>
<circle cx="331.4" cy="321.6" r="1.45"/>
<circle cx="322.4" cy="317.3" r="1.45"/>
<circle cx="330.0" cy="306.7" r="1.45"/>
<circle cx="324.6" cy="332.9" r="1.45"/>
<circle cx="312.5" cy="298.1" r="1.45"/>
<circle cx="325.1" cy="300.1" r="1.45"/>
<circle cx="311.3" cy="328.0" r="1.45"/>
<circle cx="325.2" cy="321.7" r="1.45"/>
<circle cx="313.6" cy="332.7" r="1.45"/>
<circle cx="309.3" cy="285.0" r="1.45"/>
<circle cx="318.7" cy="327.5" r="1.45"/>
<circle cx="328.7" cy="307.9" r="1.45"/>
<circle cx="319.8" cy="335.3" r="1.45"/>
<circle cx="314.7" cy="288.9" r="1.45"/>
<circle cx="310.2" cy="330.7" r="1.45"/>
<circle cx="317.6" cy="342.5" r="1.45"/>
<circle cx="310.1" cy="300.0" r="1.45"/>
<circle cx="313.3" cy="300.5" r="1.45"/>
<circle cx="317.3" cy="297.0" r="1.45"/>
<circle cx="322.7" cy="286.0" r="1.45"/>
<circle cx="317.6" cy="305.2" r="1.45"/>
<circle cx="322.6" cy="299.8" r="1.45"/>
<circle cx="324.0" cy="332.2" r="1.45"/>
<circle cx="312.8" cy="297.5" r="1.45"/>
<circle cx="317.0" cy="296.0" r="1.45"/>
<circle cx="318.9" cy="275.3" r="1.45"/>
<circle cx="323.0" cy="289.2" r="1.45"/>
<circle cx="325.4" cy="308.6" r="1.45"/>
<circle cx="326.6" cy="307.5" r="1.45"/>
<circle cx="327.0" cy="287.8" r="1.45"/>
<circle cx="316.9" cy="312.6" r="1.45"/>
<circle cx="329.2" cy="264.7" r="1.45"/>
<circle cx="316.7" cy="313.4" r="1.45"/>
<circle cx="313.6" cy="341.9" r="1.45"/>
<circle cx="331.0" cy="314.4" r="1.45"/>
<circle cx="323.3" cy="314.6" r="1.45"/>
<circle cx="320.8" cy="270.3" r="1.45"/>
<circle cx="317.0" cy="238.0" r="1.45"/>
<circle cx="327.2" cy="315.3" r="1.45"/>
<circle cx="322.1" cy="327.0" r="1.45"/>
<circle cx="328.5" cy="319.7" r="1.45"/>
<circle cx="322.0" cy="240.0" r="1.45"/>
<circle cx="311.1" cy="287.7" r="1.45"/>
<circle cx="316.7" cy="288.7" r="1.45"/>
<circle cx="312.8" cy="326.9" r="1.45"/>
<circle cx="313.4" cy="312.8" r="1.45"/>
<circle cx="324.7" cy="292.1" r="1.45"/>
<circle cx="319.9" cy="296.3" r="1.45"/>
<circle cx="330.9" cy="318.1" r="1.45"/>
<circle cx="321.5" cy="318.2" r="1.45"/>
<circle cx="316.6" cy="279.2" r="1.45"/>
<circle cx="322.4" cy="294.6" r="1.45"/>
<circle cx="318.8" cy="275.8" r="1.45"/>
<circle cx="311.4" cy="308.5" r="1.45"/>
<circle cx="317.3" cy="301.0" r="1.45"/>
<circle cx="320.0" cy="351.7" r="1.45"/>
<circle cx="326.8" cy="304.1" r="1.45"/>
<circle cx="324.4" cy="310.4" r="1.45"/>
<circle cx="328.2" cy="292.7" r="1.45"/>
<circle cx="309.8" cy="295.5" r="1.45"/>
<circle cx="312.6" cy="292.4" r="1.45"/>
<circle cx="312.5" cy="307.0" r="1.45"/>
<circle cx="322.0" cy="292.7" r="1.45"/>
<circle cx="312.7" cy="338.7" r="1.45"/>
<circle cx="318.4" cy="304.7" r="1.45"/>
<circle cx="323.4" cy="319.6" r="1.45"/>
<circle cx="330.7" cy="317.6" r="1.45"/>
<circle cx="330.3" cy="309.2" r="1.45"/>
<circle cx="316.3" cy="289.9" r="1.45"/>
<circle cx="327.2" cy="277.4" r="1.45"/>
<circle cx="330.4" cy="341.6" r="1.45"/>
<circle cx="330.3" cy="303.1" r="1.45"/>
<circle cx="326.8" cy="296.6" r="1.45"/>
<circle cx="325.3" cy="312.3" r="1.45"/>
<circle cx="325.3" cy="286.6" r="1.45"/>
<circle cx="311.7" cy="324.7" r="1.45"/>
<circle cx="317.3" cy="295.8" r="1.45"/>
<circle cx="329.9" cy="287.3" r="1.45"/>
<circle cx="309.5" cy="323.0" r="1.45"/>
<circle cx="317.5" cy="308.9" r="1.45"/>
<circle cx="325.1" cy="349.4" r="1.45"/>
<circle cx="328.8" cy="299.5" r="1.45"/>
<circle cx="312.7" cy="306.2" r="1.45"/>
<circle cx="317.9" cy="328.3" r="1.45"/>
<circle cx="327.1" cy="336.3" r="1.45"/>
<circle cx="317.3" cy="319.3" r="1.45"/>
<circle cx="310.0" cy="274.9" r="1.45"/>
<circle cx="313.0" cy="316.4" r="1.45"/>
<circle cx="314.8" cy="311.3" r="1.45"/>
<circle cx="318.8" cy="309.4" r="1.45"/>
<circle cx="331.6" cy="281.0" r="1.45"/>
<circle cx="329.6" cy="330.4" r="1.45"/>
<circle cx="329.7" cy="303.4" r="1.45"/>
<circle cx="322.0" cy="268.9" r="1.45"/>
<circle cx="329.2" cy="312.0" r="1.45"/>
<circle cx="331.5" cy="340.4" r="1.45"/>
<circle cx="313.2" cy="301.7" r="1.45"/>
<circle cx="317.2" cy="354.4" r="1.45"/>
<circle cx="320.5" cy="344.3" r="1.45"/>
<circle cx="323.3" cy="318.8" r="1.45"/>
</g>
<line x1="306.5" y1="309.5" x2="334.5" y2="309.5" stroke="#555" stroke-width="1"/>
<path d="M257.4 234.4 V232.5 H320.6 V234.4" fill="none" stroke="#707070" stroke-width="0.85"/>
<circle cx="289.00" cy="230.4" r="1.15" fill="#333"/>
<text x="392.4" y="214.4" font-size="17" font-weight="bold">F</text>
<text x="381.1" y="301.5" font-size="8.5" font-weight="bold" text-anchor="middle" transform="rotate(-90 381.1 301.5)" dominant-baseline="central">Risk score</text>
<rect x="406.9" y="222.2" width="138.80000000000007" height="160.8" fill="none" stroke="#a8a8a8" stroke-width="1.1"/>
<line x1="403.9" y1="225.1" x2="406.9" y2="225.1" stroke="#666" stroke-width="0.8"/>
<text x="401.9" y="227.65" font-size="7.3" font-weight="bold" text-anchor="end">1.0</text>
<line x1="403.9" y1="249.05" x2="406.9" y2="249.05" stroke="#666" stroke-width="0.8"/>
<text x="401.9" y="251.60000000000002" font-size="7.3" font-weight="bold" text-anchor="end">0.5</text>
<line x1="403.9" y1="273.0" x2="406.9" y2="273.0" stroke="#666" stroke-width="0.8"/>
<text x="401.9" y="275.55" font-size="7.3" font-weight="bold" text-anchor="end">0.0</text>
<line x1="403.9" y1="296.95" x2="406.9" y2="296.95" stroke="#666" stroke-width="0.8"/>
<text x="401.9" y="299.5" font-size="7.3" font-weight="bold" text-anchor="end">−0.5</text>
<line x1="403.9" y1="320.9" x2="406.9" y2="320.9" stroke="#666" stroke-width="0.8"/>
<text x="401.9" y="323.45" font-size="7.3" font-weight="bold" text-anchor="end">−1.0</text>
<line x1="403.9" y1="344.85" x2="406.9" y2="344.85" stroke="#666" stroke-width="0.8"/>
<text x="401.9" y="347.40000000000003" font-size="7.3" font-weight="bold" text-anchor="end">−1.5</text>
<line x1="403.9" y1="368.8" x2="406.9" y2="368.8" stroke="#666" stroke-width="0.8"/>
<text x="401.9" y="371.35" font-size="7.3" font-weight="bold" text-anchor="end">−2.0</text>
<line x1="444.8" y1="383" x2="444.8" y2="386" stroke="#666" stroke-width="0.8"/>
<text x="444.8" y="394.6" font-size="7.5" font-weight="bold" text-anchor="middle">Age<tspan font-weight="normal" fill="#888" dx="1.2">&lt;</tspan><tspan dx="1.2">65</tspan></text>
<line x1="508.6" y1="383" x2="508.6" y2="386" stroke="#666" stroke-width="0.8"/>
<text x="508.6" y="394.6" font-size="7.5" font-weight="bold" text-anchor="middle">Age<tspan font-weight="normal" font-size="6.3" fill="#999" dx="0.8">≧</tspan><tspan dx="0.8">65</tspan></text>
<line x1="444.5" y1="241" x2="444.5" y2="361" stroke="#858585" stroke-width="1"/>
<rect x="430.5" y="289.5" width="28.0" height="38.0" fill="#c9d7e8" stroke="#747474" stroke-width="1"/>
<g fill="#2a5ca6" fill-opacity="0.78" stroke="#fff" stroke-opacity="0.3" stroke-width="0.35">
<circle cx="433.7" cy="293.7" r="1.5"/>
<circle cx="447.0" cy="324.0" r="1.5"/>
<circle cx="445.0" cy="299.1" r="1.5"/>
<circle cx="454.1" cy="284.2" r="1.5"/>
<circle cx="452.4" cy="299.7" r="1.5"/>
<circle cx="445.8" cy="297.3" r="1.5"/>
<circle cx="455.6" cy="264.0" r="1.5"/>
<circle cx="448.4" cy="322.4" r="1.5"/>
<circle cx="451.4" cy="319.7" r="1.5"/>
<circle cx="437.7" cy="347.9" r="1.5"/>
<circle cx="445.3" cy="314.9" r="1.5"/>
<circle cx="451.9" cy="267.9" r="1.5"/>
<circle cx="451.5" cy="294.2" r="1.5"/>
<circle cx="440.0" cy="344.3" r="1.5"/>
<circle cx="454.4" cy="290.2" r="1.5"/>
<circle cx="439.9" cy="351.7" r="1.5"/>
<circle cx="443.0" cy="303.1" r="1.5"/>
<circle cx="440.3" cy="297.4" r="1.5"/>
<circle cx="446.5" cy="297.8" r="1.5"/>
<circle cx="444.0" cy="315.2" r="1.5"/>
<circle cx="447.0" cy="300.3" r="1.5"/>
<circle cx="439.2" cy="279.0" r="1.5"/>
<circle cx="455.8" cy="303.9" r="1.5"/>
<circle cx="434.4" cy="288.7" r="1.5"/>
<circle cx="455.6" cy="270.3" r="1.5"/>
<circle cx="455.9" cy="312.7" r="1.5"/>
<circle cx="444.1" cy="323.3" r="1.5"/>
<circle cx="454.3" cy="262.3" r="1.5"/>
<circle cx="445.0" cy="314.0" r="1.5"/>
<circle cx="439.8" cy="267.0" r="1.5"/>
<circle cx="449.6" cy="354.2" r="1.5"/>
<circle cx="443.3" cy="344.6" r="1.5"/>
<circle cx="449.6" cy="261.2" r="1.5"/>
<circle cx="454.3" cy="300.1" r="1.5"/>
<circle cx="445.6" cy="282.4" r="1.5"/>
<circle cx="453.3" cy="275.1" r="1.5"/>
<circle cx="444.4" cy="259.2" r="1.5"/>
<circle cx="444.5" cy="291.0" r="1.5"/>
<circle cx="434.1" cy="305.0" r="1.5"/>
<circle cx="455.8" cy="336.6" r="1.5"/>
<circle cx="444.3" cy="307.1" r="1.5"/>
<circle cx="442.2" cy="282.0" r="1.5"/>
<circle cx="452.7" cy="310.9" r="1.5"/>
<circle cx="455.4" cy="331.2" r="1.5"/>
<circle cx="439.6" cy="314.6" r="1.5"/>
<circle cx="451.6" cy="289.3" r="1.5"/>
<circle cx="449.5" cy="301.8" r="1.5"/>
<circle cx="444.5" cy="311.9" r="1.5"/>
<circle cx="442.0" cy="228.2" r="1.5"/>
<circle cx="446.8" cy="311.6" r="1.5"/>
<circle cx="444.8" cy="322.2" r="1.5"/>
<circle cx="446.5" cy="298.4" r="1.5"/>
<circle cx="452.0" cy="295.9" r="1.5"/>
<circle cx="445.2" cy="299.2" r="1.5"/>
<circle cx="439.6" cy="356.0" r="1.5"/>
<circle cx="455.0" cy="341.8" r="1.5"/>
<circle cx="437.3" cy="315.7" r="1.5"/>
<circle cx="453.0" cy="301.1" r="1.5"/>
<circle cx="449.9" cy="349.6" r="1.5"/>
<circle cx="455.5" cy="348.8" r="1.5"/>
<circle cx="443.5" cy="346.3" r="1.5"/>
<circle cx="455.3" cy="321.5" r="1.5"/>
<circle cx="449.6" cy="327.6" r="1.5"/>
<circle cx="440.0" cy="313.4" r="1.5"/>
<circle cx="443.9" cy="334.0" r="1.5"/>
<circle cx="443.2" cy="322.8" r="1.5"/>
<circle cx="443.8" cy="298.5" r="1.5"/>
<circle cx="438.7" cy="325.4" r="1.5"/>
<circle cx="437.5" cy="337.9" r="1.5"/>
<circle cx="443.4" cy="255.7" r="1.5"/>
<circle cx="438.0" cy="308.2" r="1.5"/>
<circle cx="440.8" cy="350.9" r="1.5"/>
<circle cx="437.3" cy="272.0" r="1.5"/>
<circle cx="443.1" cy="263.8" r="1.5"/>
<circle cx="442.6" cy="294.9" r="1.5"/>
<circle cx="440.6" cy="272.7" r="1.5"/>
<circle cx="447.0" cy="309.8" r="1.5"/>
<circle cx="448.4" cy="304.1" r="1.5"/>
<circle cx="444.7" cy="356.7" r="1.5"/>
<circle cx="441.9" cy="321.1" r="1.5"/>
<circle cx="444.3" cy="291.6" r="1.5"/>
<circle cx="454.1" cy="285.1" r="1.5"/>
<circle cx="447.2" cy="296.1" r="1.5"/>
<circle cx="453.9" cy="324.5" r="1.5"/>
<circle cx="442.5" cy="325.8" r="1.5"/>
<circle cx="452.8" cy="323.6" r="1.5"/>
<circle cx="451.7" cy="302.6" r="1.5"/>
<circle cx="453.8" cy="305.9" r="1.5"/>
<circle cx="439.6" cy="283.9" r="1.5"/>
<circle cx="447.2" cy="293.1" r="1.5"/>
<circle cx="443.6" cy="317.5" r="1.5"/>
<circle cx="441.8" cy="331.3" r="1.5"/>
<circle cx="435.9" cy="280.9" r="1.5"/>
<circle cx="442.3" cy="337.1" r="1.5"/>
<circle cx="436.9" cy="263.2" r="1.5"/>
<circle cx="443.3" cy="273.0" r="1.5"/>
<circle cx="438.4" cy="280.1" r="1.5"/>
<circle cx="446.3" cy="269.3" r="1.5"/>
<circle cx="447.4" cy="293.9" r="1.5"/>
<circle cx="439.0" cy="265.7" r="1.5"/>
<circle cx="441.8" cy="299.4" r="1.5"/>
<circle cx="445.8" cy="333.4" r="1.5"/>
<circle cx="436.5" cy="318.6" r="1.5"/>
<circle cx="455.1" cy="264.7" r="1.5"/>
<circle cx="448.6" cy="327.4" r="1.5"/>
<circle cx="451.8" cy="340.0" r="1.5"/>
<circle cx="452.1" cy="330.0" r="1.5"/>
<circle cx="443.2" cy="326.2" r="1.5"/>
<circle cx="443.3" cy="343.0" r="1.5"/>
<circle cx="455.2" cy="250.9" r="1.5"/>
<circle cx="448.2" cy="274.3" r="1.5"/>
<circle cx="443.4" cy="335.8" r="1.5"/>
<circle cx="449.9" cy="288.2" r="1.5"/>
<circle cx="436.8" cy="334.8" r="1.5"/>
<circle cx="436.0" cy="290.9" r="1.5"/>
<circle cx="443.9" cy="312.4" r="1.5"/>
<circle cx="454.9" cy="276.6" r="1.5"/>
<circle cx="451.6" cy="331.6" r="1.5"/>
<circle cx="454.3" cy="335.2" r="1.5"/>
<circle cx="443.7" cy="343.2" r="1.5"/>
<circle cx="436.8" cy="292.8" r="1.5"/>
<circle cx="433.9" cy="320.5" r="1.5"/>
<circle cx="433.4" cy="324.3" r="1.5"/>
<circle cx="452.9" cy="275.9" r="1.5"/>
<circle cx="439.9" cy="308.2" r="1.5"/>
<circle cx="447.8" cy="276.4" r="1.5"/>
<circle cx="437.3" cy="353.1" r="1.5"/>
<circle cx="435.3" cy="318.4" r="1.5"/>
<circle cx="448.9" cy="283.3" r="1.5"/>
<circle cx="442.7" cy="350.4" r="1.5"/>
<circle cx="436.1" cy="331.8" r="1.5"/>
<circle cx="455.2" cy="330.6" r="1.5"/>
<circle cx="438.2" cy="284.5" r="1.5"/>
<circle cx="438.4" cy="320.1" r="1.5"/>
<circle cx="446.0" cy="298.8" r="1.5"/>
<circle cx="451.9" cy="283.0" r="1.5"/>
<circle cx="452.9" cy="320.7" r="1.5"/>
<circle cx="448.3" cy="302.4" r="1.5"/>
<circle cx="433.7" cy="301.7" r="1.5"/>
<circle cx="440.3" cy="327.0" r="1.5"/>
<circle cx="452.8" cy="271.7" r="1.5"/>
<circle cx="449.1" cy="285.5" r="1.5"/>
<circle cx="448.0" cy="347.6" r="1.5"/>
<circle cx="441.3" cy="276.8" r="1.5"/>
<circle cx="435.6" cy="274.7" r="1.5"/>
<circle cx="446.5" cy="278.3" r="1.5"/>
<circle cx="437.9" cy="342.5" r="1.5"/>
<circle cx="439.3" cy="286.0" r="1.5"/>
<circle cx="449.4" cy="269.8" r="1.5"/>
<circle cx="443.9" cy="258.3" r="1.5"/>
<circle cx="451.6" cy="345.5" r="1.5"/>
<circle cx="439.3" cy="292.5" r="1.5"/>
<circle cx="454.8" cy="287.4" r="1.5"/>
<circle cx="437.8" cy="278.9" r="1.5"/>
<circle cx="436.1" cy="334.6" r="1.5"/>
<circle cx="452.0" cy="308.0" r="1.5"/>
<circle cx="445.4" cy="307.5" r="1.5"/>
<circle cx="452.6" cy="328.9" r="1.5"/>
<circle cx="449.0" cy="332.6" r="1.5"/>
<circle cx="439.3" cy="279.5" r="1.5"/>
<circle cx="441.1" cy="304.8" r="1.5"/>
<circle cx="447.6" cy="345.7" r="1.5"/>
<circle cx="451.1" cy="352.2" r="1.5"/>
<circle cx="443.2" cy="286.0" r="1.5"/>
<circle cx="445.5" cy="283.5" r="1.5"/>
<circle cx="438.4" cy="250.1" r="1.5"/>
<circle cx="453.8" cy="306.8" r="1.5"/>
<circle cx="438.6" cy="288.6" r="1.5"/>
<circle cx="450.1" cy="361.0" r="1.5"/>
<circle cx="443.4" cy="296.6" r="1.5"/>
<circle cx="437.0" cy="261.6" r="1.5"/>
<circle cx="435.9" cy="297.5" r="1.5"/>
<circle cx="451.7" cy="326.1" r="1.5"/>
<circle cx="449.1" cy="303.5" r="1.5"/>
<circle cx="444.0" cy="300.7" r="1.5"/>
<circle cx="443.4" cy="330.1" r="1.5"/>
<circle cx="435.7" cy="294.7" r="1.5"/>
<circle cx="444.7" cy="346.8" r="1.5"/>
<circle cx="447.8" cy="324.9" r="1.5"/>
<circle cx="442.3" cy="287.6" r="1.5"/>
<circle cx="440.9" cy="306.0" r="1.5"/>
<circle cx="450.0" cy="316.9" r="1.5"/>
<circle cx="446.1" cy="292.1" r="1.5"/>
<circle cx="440.3" cy="339.0" r="1.5"/>
<circle cx="438.8" cy="300.6" r="1.5"/>
<circle cx="448.1" cy="302.8" r="1.5"/>
<circle cx="450.9" cy="260.4" r="1.5"/>
<circle cx="442.5" cy="302.3" r="1.5"/>
<circle cx="452.9" cy="343.6" r="1.5"/>
<circle cx="454.0" cy="335.5" r="1.5"/>
<circle cx="442.0" cy="291.5" r="1.5"/>
<circle cx="447.8" cy="309.1" r="1.5"/>
<circle cx="447.5" cy="290.4" r="1.5"/>
<circle cx="454.5" cy="315.5" r="1.5"/>
<circle cx="437.6" cy="345.0" r="1.5"/>
<circle cx="434.5" cy="325.3" r="1.5"/>
<circle cx="433.9" cy="323.0" r="1.5"/>
<circle cx="440.2" cy="290.1" r="1.5"/>
<circle cx="446.1" cy="305.3" r="1.5"/>
<circle cx="442.0" cy="332.9" r="1.5"/>
<circle cx="433.3" cy="279.6" r="1.5"/>
<circle cx="436.9" cy="286.5" r="1.5"/>
<circle cx="450.7" cy="280.5" r="1.5"/>
<circle cx="442.6" cy="309.7" r="1.5"/>
<circle cx="449.2" cy="302.0" r="1.5"/>
<circle cx="434.6" cy="319.3" r="1.5"/>
<circle cx="452.6" cy="297.9" r="1.5"/>
<circle cx="447.4" cy="352.6" r="1.5"/>
<circle cx="451.8" cy="337.6" r="1.5"/>
<circle cx="438.2" cy="310.5" r="1.5"/>
<circle cx="436.0" cy="342.3" r="1.5"/>
<circle cx="455.0" cy="314.5" r="1.5"/>
<circle cx="441.9" cy="338.2" r="1.5"/>
<circle cx="455.1" cy="308.7" r="1.5"/>
<circle cx="433.8" cy="358.8" r="1.5"/>
<circle cx="436.4" cy="253.3" r="1.5"/>
<circle cx="434.3" cy="254.5" r="1.5"/>
<circle cx="454.5" cy="339.7" r="1.5"/>
<circle cx="450.4" cy="318.2" r="1.5"/>
<circle cx="453.4" cy="358.0" r="1.5"/>
<circle cx="433.8" cy="281.4" r="1.5"/>
<circle cx="442.0" cy="291.9" r="1.5"/>
<circle cx="434.3" cy="289.0" r="1.5"/>
<circle cx="451.0" cy="329.5" r="1.5"/>
<circle cx="448.8" cy="269.9" r="1.5"/>
<circle cx="447.2" cy="323.7" r="1.5"/>
<circle cx="441.6" cy="305.6" r="1.5"/>
<circle cx="441.4" cy="281.7" r="1.5"/>
<circle cx="454.2" cy="328.2" r="1.5"/>
<circle cx="438.3" cy="284.6" r="1.5"/>
<circle cx="446.0" cy="307.5" r="1.5"/>
<circle cx="450.3" cy="290.6" r="1.5"/>
<circle cx="452.1" cy="286.7" r="1.5"/>
<circle cx="451.7" cy="278.2" r="1.5"/>
<circle cx="454.0" cy="266.3" r="1.5"/>
<circle cx="436.2" cy="301.4" r="1.5"/>
<circle cx="436.7" cy="326.7" r="1.5"/>
<circle cx="446.8" cy="292.4" r="1.5"/>
<circle cx="449.5" cy="316.2" r="1.5"/>
<circle cx="437.5" cy="306.6" r="1.5"/>
<circle cx="442.9" cy="310.0" r="1.5"/>
<circle cx="438.1" cy="340.7" r="1.5"/>
<circle cx="451.9" cy="336.2" r="1.5"/>
<circle cx="442.5" cy="340.4" r="1.5"/>
<circle cx="434.8" cy="344.1" r="1.5"/>
<circle cx="454.1" cy="335.0" r="1.5"/>
<circle cx="442.7" cy="321.8" r="1.5"/>
<circle cx="435.4" cy="310.3" r="1.5"/>
<circle cx="444.1" cy="324.7" r="1.5"/>
<circle cx="444.9" cy="295.6" r="1.5"/>
<circle cx="443.3" cy="313.2" r="1.5"/>
<circle cx="438.1" cy="316.4" r="1.5"/>
<circle cx="453.5" cy="348.0" r="1.5"/>
<circle cx="436.9" cy="277.7" r="1.5"/>
<circle cx="439.3" cy="328.4" r="1.5"/>
<circle cx="435.8" cy="291.2" r="1.5"/>
<circle cx="440.4" cy="299.9" r="1.5"/>
<circle cx="440.0" cy="296.2" r="1.5"/>
<circle cx="443.7" cy="341.6" r="1.5"/>
<circle cx="444.8" cy="353.4" r="1.5"/>
<circle cx="436.4" cy="301.2" r="1.5"/>
<circle cx="450.4" cy="315.8" r="1.5"/>
<circle cx="441.3" cy="266.6" r="1.5"/>
<circle cx="437.6" cy="336.6" r="1.5"/>
<circle cx="447.9" cy="326.5" r="1.5"/>
<circle cx="436.0" cy="346.0" r="1.5"/>
<circle cx="436.5" cy="268.9" r="1.5"/>
<circle cx="442.9" cy="282.5" r="1.5"/>
<circle cx="441.7" cy="295.3" r="1.5"/>
<circle cx="447.8" cy="319.1" r="1.5"/>
<circle cx="455.9" cy="306.3" r="1.5"/>
<circle cx="445.0" cy="285.4" r="1.5"/>
<circle cx="452.6" cy="273.8" r="1.5"/>
<circle cx="446.5" cy="310.7" r="1.5"/>
<circle cx="448.6" cy="303.7" r="1.5"/>
<circle cx="433.3" cy="332.3" r="1.5"/>
<circle cx="443.3" cy="287.2" r="1.5"/>
<circle cx="448.6" cy="313.1" r="1.5"/>
<circle cx="438.8" cy="241.0" r="1.5"/>
<circle cx="452.6" cy="293.5" r="1.5"/>
<circle cx="448.1" cy="289.7" r="1.5"/>
<circle cx="435.6" cy="273.3" r="1.5"/>
<circle cx="440.3" cy="268.6" r="1.5"/>
<circle cx="453.8" cy="275.3" r="1.5"/>
<circle cx="440.8" cy="332.8" r="1.5"/>
<circle cx="437.6" cy="316.7" r="1.5"/>
<circle cx="453.5" cy="333.5" r="1.5"/>
<circle cx="444.6" cy="320.9" r="1.5"/>
<circle cx="453.4" cy="338.6" r="1.5"/>
<circle cx="433.5" cy="341.2" r="1.5"/>
<circle cx="440.5" cy="296.7" r="1.5"/>
<circle cx="443.4" cy="294.5" r="1.5"/>
<circle cx="435.6" cy="275.7" r="1.5"/>
<circle cx="455.3" cy="303.4" r="1.5"/>
<circle cx="444.0" cy="308.8" r="1.5"/>
<circle cx="449.7" cy="271.4" r="1.5"/>
<circle cx="440.1" cy="287.8" r="1.5"/>
<circle cx="444.0" cy="270.9" r="1.5"/>
<circle cx="436.7" cy="293.3" r="1.5"/>
<circle cx="436.6" cy="329.7" r="1.5"/>
<circle cx="448.9" cy="337.2" r="1.5"/>
<circle cx="450.9" cy="328.0" r="1.5"/>
<circle cx="452.7" cy="267.6" r="1.5"/>
<circle cx="438.6" cy="347.1" r="1.5"/>
<circle cx="434.3" cy="327.3" r="1.5"/>
<circle cx="449.0" cy="305.1" r="1.5"/>
<circle cx="434.4" cy="313.8" r="1.5"/>
<circle cx="448.9" cy="298.3" r="1.5"/>
<circle cx="437.4" cy="306.7" r="1.5"/>
<circle cx="442.8" cy="318.8" r="1.5"/>
<circle cx="444.5" cy="334.2" r="1.5"/>
<circle cx="449.8" cy="329.1" r="1.5"/>
<circle cx="442.5" cy="341.5" r="1.5"/>
<circle cx="446.3" cy="297.0" r="1.5"/>
<circle cx="437.0" cy="289.6" r="1.5"/>
<circle cx="434.0" cy="317.8" r="1.5"/>
<circle cx="449.3" cy="338.4" r="1.5"/>
<circle cx="435.5" cy="309.4" r="1.5"/>
<circle cx="434.4" cy="317.2" r="1.5"/>
<circle cx="442.0" cy="321.2" r="1.5"/>
<circle cx="443.5" cy="340.2" r="1.5"/>
<circle cx="443.7" cy="281.2" r="1.5"/>
<circle cx="443.6" cy="330.7" r="1.5"/>
<circle cx="442.4" cy="304.3" r="1.5"/>
<circle cx="446.8" cy="273.9" r="1.5"/>
<circle cx="435.3" cy="295.5" r="1.5"/>
<circle cx="453.5" cy="280.2" r="1.5"/>
<circle cx="439.1" cy="314.1" r="1.5"/>
<circle cx="446.9" cy="311.3" r="1.5"/>
<circle cx="433.5" cy="319.7" r="1.5"/>
<circle cx="448.1" cy="349.0" r="1.5"/>
<circle cx="435.7" cy="322.3" r="1.5"/>
<circle cx="440.7" cy="339.2" r="1.5"/>
<circle cx="442.5" cy="311.9" r="1.5"/>
<circle cx="452.0" cy="317.5" r="1.5"/>
<circle cx="447.3" cy="292.9" r="1.5"/>
<circle cx="437.0" cy="312.5" r="1.5"/>
<circle cx="436.5" cy="304.5" r="1.5"/>
<circle cx="452.1" cy="295.0" r="1.5"/>
<circle cx="442.3" cy="349.9" r="1.5"/>
<circle cx="451.9" cy="277.1" r="1.5"/>
<circle cx="439.1" cy="277.8" r="1.5"/>
</g>
<line x1="430.5" y1="307.5" x2="458.5" y2="307.5" stroke="#555" stroke-width="1"/>
<line x1="508.5" y1="230" x2="508.5" y2="377.5" stroke="#858585" stroke-width="1"/>
<rect x="493.5" y="286.5" width="29.0" height="39.0" fill="#fbd3d3" stroke="#747474" stroke-width="1"/>
<g fill="#f23a3a" fill-opacity="0.66" stroke="#fff" stroke-opacity="0.3" stroke-width="0.35">
<circle cx="519.1" cy="273.8" r="1.45"/>
<circle cx="516.5" cy="332.2" r="1.45"/>
<circle cx="517.6" cy="296.5" r="1.45"/>
<circle cx="498.8" cy="288.7" r="1.45"/>
<circle cx="498.1" cy="290.9" r="1.45"/>
<circle cx="513.8" cy="281.4" r="1.45"/>
<circle cx="513.5" cy="347.7" r="1.45"/>
<circle cx="513.2" cy="351.0" r="1.45"/>
<circle cx="510.5" cy="317.9" r="1.45"/>
<circle cx="517.8" cy="290.4" r="1.45"/>
<circle cx="501.2" cy="338.6" r="1.45"/>
<circle cx="507.4" cy="295.3" r="1.45"/>
<circle cx="510.8" cy="299.7" r="1.45"/>
<circle cx="513.2" cy="275.0" r="1.45"/>
<circle cx="514.7" cy="292.7" r="1.45"/>
<circle cx="504.6" cy="310.9" r="1.45"/>
<circle cx="505.7" cy="304.6" r="1.45"/>
<circle cx="517.6" cy="318.7" r="1.45"/>
<circle cx="512.3" cy="333.2" r="1.45"/>
<circle cx="513.8" cy="286.5" r="1.45"/>
<circle cx="500.3" cy="324.7" r="1.45"/>
<circle cx="505.0" cy="289.6" r="1.45"/>
<circle cx="509.9" cy="301.8" r="1.45"/>
<circle cx="509.4" cy="287.5" r="1.45"/>
<circle cx="504.5" cy="333.4" r="1.45"/>
<circle cx="517.7" cy="295.7" r="1.45"/>
<circle cx="516.6" cy="306.7" r="1.45"/>
<circle cx="499.1" cy="331.2" r="1.45"/>
<circle cx="507.3" cy="321.9" r="1.45"/>
<circle cx="503.6" cy="226.2" r="1.45"/>
<circle cx="515.4" cy="321.9" r="1.45"/>
<circle cx="510.1" cy="293.3" r="1.45"/>
<circle cx="509.2" cy="326.5" r="1.45"/>
<circle cx="504.7" cy="336.1" r="1.45"/>
<circle cx="509.6" cy="329.4" r="1.45"/>
<circle cx="500.5" cy="325.4" r="1.45"/>
<circle cx="502.7" cy="302.4" r="1.45"/>
<circle cx="504.2" cy="279.2" r="1.45"/>
<circle cx="501.6" cy="279.2" r="1.45"/>
<circle cx="505.8" cy="336.5" r="1.45"/>
<circle cx="512.4" cy="275.1" r="1.45"/>
<circle cx="510.3" cy="322.7" r="1.45"/>
<circle cx="509.3" cy="340.9" r="1.45"/>
<circle cx="518.0" cy="273.1" r="1.45"/>
<circle cx="518.3" cy="359.5" r="1.45"/>
<circle cx="513.4" cy="271.2" r="1.45"/>
<circle cx="497.7" cy="339.5" r="1.45"/>
<circle cx="504.5" cy="282.8" r="1.45"/>
<circle cx="508.6" cy="346.4" r="1.45"/>
<circle cx="502.9" cy="270.0" r="1.45"/>
<circle cx="500.1" cy="332.5" r="1.45"/>
<circle cx="499.7" cy="276.7" r="1.45"/>
<circle cx="509.4" cy="285.3" r="1.45"/>
<circle cx="514.3" cy="285.0" r="1.45"/>
<circle cx="508.6" cy="340.0" r="1.45"/>
<circle cx="506.9" cy="289.2" r="1.45"/>
<circle cx="505.9" cy="330.6" r="1.45"/>
<circle cx="499.6" cy="326.0" r="1.45"/>
<circle cx="502.9" cy="306.4" r="1.45"/>
<circle cx="499.9" cy="270.0" r="1.45"/>
<circle cx="514.8" cy="357.4" r="1.45"/>
<circle cx="508.3" cy="278.6" r="1.45"/>
<circle cx="509.0" cy="261.0" r="1.45"/>
<circle cx="509.0" cy="245.9" r="1.45"/>
<circle cx="506.6" cy="268.3" r="1.45"/>
<circle cx="505.6" cy="287.8" r="1.45"/>
<circle cx="506.2" cy="277.1" r="1.45"/>
<circle cx="516.6" cy="337.7" r="1.45"/>
<circle cx="516.0" cy="262.7" r="1.45"/>
<circle cx="508.3" cy="301.6" r="1.45"/>
<circle cx="503.5" cy="315.9" r="1.45"/>
<circle cx="513.2" cy="294.4" r="1.45"/>
<circle cx="499.6" cy="279.7" r="1.45"/>
<circle cx="500.5" cy="312.3" r="1.45"/>
<circle cx="517.4" cy="328.5" r="1.45"/>
<circle cx="499.7" cy="323.3" r="1.45"/>
<circle cx="518.7" cy="305.7" r="1.45"/>
<circle cx="496.9" cy="308.7" r="1.45"/>
<circle cx="499.0" cy="295.9" r="1.45"/>
<circle cx="499.2" cy="284.0" r="1.45"/>
<circle cx="504.5" cy="297.2" r="1.45"/>
<circle cx="512.3" cy="343.6" r="1.45"/>
<circle cx="516.4" cy="330.1" r="1.45"/>
<circle cx="514.8" cy="283.5" r="1.45"/>
<circle cx="516.0" cy="229.6" r="1.45"/>
<circle cx="505.5" cy="292.4" r="1.45"/>
<circle cx="501.6" cy="303.5" r="1.45"/>
<circle cx="508.6" cy="312.7" r="1.45"/>
<circle cx="498.6" cy="266.3" r="1.45"/>
<circle cx="515.9" cy="323.5" r="1.45"/>
<circle cx="497.8" cy="314.2" r="1.45"/>
<circle cx="502.5" cy="329.6" r="1.45"/>
<circle cx="500.8" cy="307.9" r="1.45"/>
<circle cx="516.7" cy="278.2" r="1.45"/>
<circle cx="515.5" cy="291.5" r="1.45"/>
<circle cx="511.3" cy="285.9" r="1.45"/>
<circle cx="507.8" cy="275.7" r="1.45"/>
<circle cx="512.1" cy="317.0" r="1.45"/>
<circle cx="513.6" cy="251.4" r="1.45"/>
<circle cx="515.0" cy="268.6" r="1.45"/>
<circle cx="497.1" cy="289.9" r="1.45"/>
<circle cx="513.7" cy="314.1" r="1.45"/>
<circle cx="512.4" cy="281.1" r="1.45"/>
<circle cx="504.5" cy="300.2" r="1.45"/>
<circle cx="502.5" cy="314.9" r="1.45"/>
<circle cx="499.4" cy="315.2" r="1.45"/>
<circle cx="518.0" cy="265.4" r="1.45"/>
<circle cx="514.6" cy="331.7" r="1.45"/>
<circle cx="512.8" cy="294.0" r="1.45"/>
<circle cx="516.9" cy="360.8" r="1.45"/>
<circle cx="514.7" cy="352.1" r="1.45"/>
<circle cx="498.0" cy="344.3" r="1.45"/>
<circle cx="500.1" cy="271.3" r="1.45"/>
<circle cx="507.6" cy="280.7" r="1.45"/>
<circle cx="505.7" cy="303.9" r="1.45"/>
<circle cx="507.5" cy="321.0" r="1.45"/>
<circle cx="499.3" cy="299.4" r="1.45"/>
<circle cx="500.8" cy="319.9" r="1.45"/>
<circle cx="513.1" cy="281.7" r="1.45"/>
<circle cx="502.2" cy="320.5" r="1.45"/>
<circle cx="513.8" cy="337.0" r="1.45"/>
<circle cx="508.8" cy="329.0" r="1.45"/>
<circle cx="504.1" cy="310.2" r="1.45"/>
<circle cx="499.2" cy="324.0" r="1.45"/>
<circle cx="510.7" cy="301.1" r="1.45"/>
<circle cx="513.1" cy="321.4" r="1.45"/>
<circle cx="513.5" cy="284.6" r="1.45"/>
<circle cx="518.0" cy="298.6" r="1.45"/>
<circle cx="504.1" cy="299.2" r="1.45"/>
<circle cx="517.7" cy="253.5" r="1.45"/>
<circle cx="499.5" cy="297.0" r="1.45"/>
<circle cx="508.3" cy="276.0" r="1.45"/>
<circle cx="499.6" cy="300.3" r="1.45"/>
<circle cx="502.5" cy="291.6" r="1.45"/>
<circle cx="517.4" cy="341.3" r="1.45"/>
<circle cx="514.2" cy="282.6" r="1.45"/>
<circle cx="501.3" cy="371.9" r="1.45"/>
<circle cx="518.3" cy="349.0" r="1.45"/>
<circle cx="509.9" cy="313.3" r="1.45"/>
<circle cx="499.5" cy="283.9" r="1.45"/>
<circle cx="499.9" cy="341.9" r="1.45"/>
<circle cx="502.6" cy="309.3" r="1.45"/>
<circle cx="518.2" cy="274.3" r="1.45"/>
<circle cx="513.1" cy="267.0" r="1.45"/>
<circle cx="504.0" cy="325.2" r="1.45"/>
<circle cx="514.6" cy="324.4" r="1.45"/>
<circle cx="506.5" cy="309.2" r="1.45"/>
<circle cx="512.1" cy="308.3" r="1.45"/>
<circle cx="500.2" cy="345.5" r="1.45"/>
<circle cx="509.2" cy="282.0" r="1.45"/>
<circle cx="511.5" cy="319.6" r="1.45"/>
<circle cx="506.9" cy="355.4" r="1.45"/>
<circle cx="514.3" cy="302.1" r="1.45"/>
<circle cx="504.9" cy="337.4" r="1.45"/>
<circle cx="500.1" cy="294.1" r="1.45"/>
<circle cx="517.0" cy="305.1" r="1.45"/>
<circle cx="513.5" cy="335.4" r="1.45"/>
<circle cx="515.0" cy="259.2" r="1.45"/>
<circle cx="497.5" cy="269.0" r="1.45"/>
<circle cx="516.0" cy="293.2" r="1.45"/>
<circle cx="514.6" cy="292.1" r="1.45"/>
<circle cx="511.2" cy="342.9" r="1.45"/>
<circle cx="507.8" cy="261.7" r="1.45"/>
<circle cx="515.0" cy="298.0" r="1.45"/>
<circle cx="507.5" cy="348.2" r="1.45"/>
<circle cx="508.9" cy="340.3" r="1.45"/>
<circle cx="506.2" cy="287.1" r="1.45"/>
<circle cx="513.0" cy="288.7" r="1.45"/>
<circle cx="510.0" cy="286.2" r="1.45"/>
<circle cx="517.4" cy="305.3" r="1.45"/>
<circle cx="515.0" cy="334.4" r="1.45"/>
<circle cx="511.3" cy="277.8" r="1.45"/>
<circle cx="507.4" cy="371.9" r="1.45"/>
<circle cx="502.2" cy="313.5" r="1.45"/>
<circle cx="514.1" cy="346.0" r="1.45"/>
<circle cx="505.8" cy="304.4" r="1.45"/>
<circle cx="502.1" cy="344.4" r="1.45"/>
<circle cx="512.1" cy="306.1" r="1.45"/>
<circle cx="499.7" cy="286.8" r="1.45"/>
<circle cx="514.5" cy="311.4" r="1.45"/>
<circle cx="512.9" cy="298.2" r="1.45"/>
<circle cx="518.7" cy="316.6" r="1.45"/>
<circle cx="503.9" cy="322.3" r="1.45"/>
<circle cx="504.8" cy="315.5" r="1.45"/>
<circle cx="514.9" cy="294.7" r="1.45"/>
<circle cx="499.3" cy="320.4" r="1.45"/>
<circle cx="503.6" cy="338.5" r="1.45"/>
<circle cx="501.0" cy="318.3" r="1.45"/>
<circle cx="501.3" cy="316.0" r="1.45"/>
<circle cx="512.4" cy="307.2" r="1.45"/>
<circle cx="499.7" cy="272.6" r="1.45"/>
<circle cx="505.8" cy="327.0" r="1.45"/>
<circle cx="508.6" cy="307.6" r="1.45"/>
<circle cx="517.7" cy="327.8" r="1.45"/>
<circle cx="507.2" cy="290.6" r="1.45"/>
<circle cx="505.1" cy="288.2" r="1.45"/>
<circle cx="506.2" cy="296.3" r="1.45"/>
<circle cx="501.1" cy="303.1" r="1.45"/>
<circle cx="512.0" cy="350.5" r="1.45"/>
<circle cx="506.2" cy="273.4" r="1.45"/>
<circle cx="511.7" cy="272.3" r="1.45"/>
<circle cx="515.2" cy="309.7" r="1.45"/>
<circle cx="502.2" cy="277.3" r="1.45"/>
<circle cx="497.2" cy="267.5" r="1.45"/>
<circle cx="499.3" cy="312.1" r="1.45"/>
<circle cx="498.8" cy="327.6" r="1.45"/>
<circle cx="506.3" cy="264.2" r="1.45"/>
<circle cx="500.5" cy="319.0" r="1.45"/>
<circle cx="500.6" cy="300.8" r="1.45"/>
<circle cx="517.1" cy="302.9" r="1.45"/>
<circle cx="516.5" cy="353.0" r="1.45"/>
<circle cx="518.5" cy="378.2" r="1.45"/>
<circle cx="503.3" cy="310.5" r="1.45"/>
<circle cx="504.1" cy="297.7" r="1.45"/>
<circle cx="514.8" cy="256.7" r="1.45"/>
<circle cx="497.6" cy="280.1" r="1.45"/>
<circle cx="502.9" cy="317.2" r="1.45"/>
<circle cx="503.2" cy="245.9" r="1.45"/>
<circle cx="518.9" cy="317.5" r="1.45"/>
<circle cx="516.6" cy="311.8" r="1.45"/>
<circle cx="515.4" cy="333.8" r="1.45"/>
<circle cx="504.0" cy="334.8" r="1.45"/>
</g>
<line x1="493.5" y1="305.5" x2="522.5" y2="305.5" stroke="#555" stroke-width="1"/>
</svg>
</div></body></html>
